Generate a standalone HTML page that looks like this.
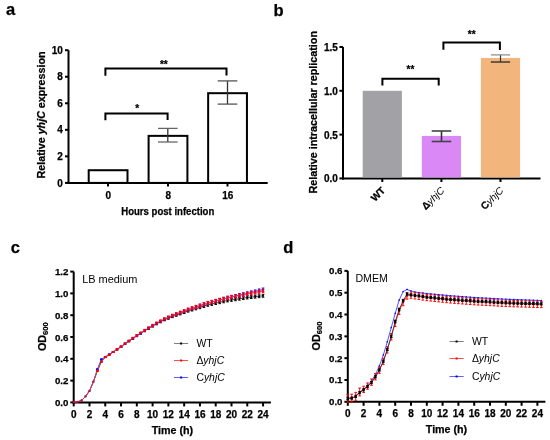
<!DOCTYPE html>
<html><head><meta charset="utf-8"><style>
html,body{margin:0;padding:0;background:#fff;}
svg{display:block;font-family:"Liberation Sans", sans-serif;will-change:transform;}
</style></head><body>
<svg width="550" height="440" viewBox="0 0 550 440" font-family='"Liberation Sans", sans-serif'>
<rect width="550" height="440" fill="#fff"/>
<text x="6.00" y="14.70" font-size="16.5" font-weight="bold" text-anchor="start"  stroke="#000" stroke-width="0.25">a</text>
<text x="273.50" y="15.60" font-size="16.5" font-weight="bold" text-anchor="start"  stroke="#000" stroke-width="0.25">b</text>
<text x="10.80" y="253.40" font-size="16.5" font-weight="bold" text-anchor="start"  stroke="#000" stroke-width="0.25">c</text>
<text x="283.20" y="252.50" font-size="16.5" font-weight="bold" text-anchor="start"  stroke="#000" stroke-width="0.25">d</text>
<line x1="68.50" y1="50.20" x2="68.50" y2="183.90" stroke="#000" stroke-width="2" />
<line x1="67.50" y1="182.90" x2="267.70" y2="182.90" stroke="#000" stroke-width="2" />
<line x1="65.00" y1="182.90" x2="68.50" y2="182.90" stroke="#000" stroke-width="2" />
<text x="62.80" y="186.50" font-size="10" font-weight="bold" text-anchor="end"  stroke="#000" stroke-width="0.25">0</text>
<line x1="65.00" y1="156.36" x2="68.50" y2="156.36" stroke="#000" stroke-width="2" />
<text x="62.80" y="159.96" font-size="10" font-weight="bold" text-anchor="end"  stroke="#000" stroke-width="0.25">2</text>
<line x1="65.00" y1="129.82" x2="68.50" y2="129.82" stroke="#000" stroke-width="2" />
<text x="62.80" y="133.42" font-size="10" font-weight="bold" text-anchor="end"  stroke="#000" stroke-width="0.25">4</text>
<line x1="65.00" y1="103.28" x2="68.50" y2="103.28" stroke="#000" stroke-width="2" />
<text x="62.80" y="106.88" font-size="10" font-weight="bold" text-anchor="end"  stroke="#000" stroke-width="0.25">6</text>
<line x1="65.00" y1="76.74" x2="68.50" y2="76.74" stroke="#000" stroke-width="2" />
<text x="62.80" y="80.34" font-size="10" font-weight="bold" text-anchor="end"  stroke="#000" stroke-width="0.25">8</text>
<line x1="65.00" y1="50.20" x2="68.50" y2="50.20" stroke="#000" stroke-width="2" />
<text x="62.80" y="53.80" font-size="10" font-weight="bold" text-anchor="end"  stroke="#000" stroke-width="0.25">10</text>
<rect x="88.70" y="170.23" width="38.80" height="12.67" fill="#fff" stroke="#000" stroke-width="2"/>
<rect x="148.60" y="135.86" width="38.80" height="47.04" fill="#fff" stroke="#000" stroke-width="2"/>
<rect x="208.15" y="93.19" width="38.80" height="89.71" fill="#fff" stroke="#000" stroke-width="2"/>
<line x1="108.00" y1="182.90" x2="108.00" y2="186.50" stroke="#000" stroke-width="2" />
<text x="108.20" y="198.90" font-size="10" font-weight="bold" text-anchor="middle"  stroke="#000" stroke-width="0.25">0</text>
<line x1="168.00" y1="182.90" x2="168.00" y2="186.50" stroke="#000" stroke-width="2" />
<text x="168.20" y="198.90" font-size="10" font-weight="bold" text-anchor="middle"  stroke="#000" stroke-width="0.25">8</text>
<line x1="227.50" y1="182.90" x2="227.50" y2="186.50" stroke="#000" stroke-width="2" />
<text x="227.70" y="198.90" font-size="10" font-weight="bold" text-anchor="middle"  stroke="#000" stroke-width="0.25">16</text>
<line x1="167.80" y1="128.40" x2="167.80" y2="142.00" stroke="#333" stroke-width="1.3" />
<line x1="158.00" y1="128.40" x2="177.60" y2="128.40" stroke="#666" stroke-width="1.3" />
<line x1="158.00" y1="142.00" x2="177.60" y2="142.00" stroke="#666" stroke-width="1.3" />
<line x1="227.50" y1="80.90" x2="227.50" y2="104.10" stroke="#333" stroke-width="1.3" />
<line x1="217.70" y1="80.90" x2="237.30" y2="80.90" stroke="#555" stroke-width="1.3" />
<line x1="217.70" y1="104.10" x2="237.30" y2="104.10" stroke="#555" stroke-width="1.3" />
<path d="M105.4 75.8 V68.4 H226.5 V75.4" fill="none" stroke="#000" stroke-width="2"/>
<path d="M105.4 120.2 V113.6 H167.6 V120.0" fill="none" stroke="#000" stroke-width="2"/>
<text x="163.80" y="67.50" font-size="10" font-weight="bold" text-anchor="middle"  stroke="#000" stroke-width="0.25">**</text>
<text x="137.10" y="112.20" font-size="10" font-weight="bold" text-anchor="middle"  stroke="#000" stroke-width="0.25">*</text>
<text transform="translate(44.9,115.0) rotate(-90)" font-size="10.5" font-weight="bold" stroke="#000" stroke-width="0.25" text-anchor="middle" textLength="127" lengthAdjust="spacingAndGlyphs">Relative <tspan font-style="italic">yhjC</tspan> expression</text>
<text x="167.75" y="215.10" font-size="10" font-weight="bold" text-anchor="middle"  textLength="93" lengthAdjust="spacingAndGlyphs" stroke="#000" stroke-width="0.25">Hours post infection</text>
<line x1="343.00" y1="47.00" x2="343.00" y2="179.40" stroke="#000" stroke-width="2" />
<line x1="342.00" y1="178.40" x2="540.50" y2="178.40" stroke="#000" stroke-width="2" />
<line x1="339.40" y1="178.40" x2="343.00" y2="178.40" stroke="#000" stroke-width="2" />
<text x="337.80" y="182.40" font-size="10" font-weight="bold" text-anchor="end"  stroke="#000" stroke-width="0.25">0.0</text>
<line x1="339.40" y1="134.60" x2="343.00" y2="134.60" stroke="#000" stroke-width="2" />
<text x="337.80" y="138.60" font-size="10" font-weight="bold" text-anchor="end"  stroke="#000" stroke-width="0.25">0.5</text>
<line x1="339.40" y1="90.80" x2="343.00" y2="90.80" stroke="#000" stroke-width="2" />
<text x="337.80" y="94.80" font-size="10" font-weight="bold" text-anchor="end"  stroke="#000" stroke-width="0.25">1.0</text>
<line x1="339.40" y1="47.00" x2="343.00" y2="47.00" stroke="#000" stroke-width="2" />
<text x="337.80" y="51.00" font-size="10" font-weight="bold" text-anchor="end"  stroke="#000" stroke-width="0.25">1.5</text>
<rect x="362.70" y="90.80" width="39.20" height="86.60" fill="#a2a1a6"/>
<line x1="382.30" y1="178.40" x2="382.30" y2="182.00" stroke="#000" stroke-width="2" />
<rect x="421.80" y="135.91" width="39.20" height="41.49" fill="#da88f5"/>
<line x1="441.40" y1="178.40" x2="441.40" y2="182.00" stroke="#000" stroke-width="2" />
<rect x="480.90" y="57.95" width="39.20" height="119.45" fill="#f2b67d"/>
<line x1="500.50" y1="178.40" x2="500.50" y2="182.00" stroke="#000" stroke-width="2" />
<line x1="441.50" y1="131.00" x2="441.50" y2="141.50" stroke="#333" stroke-width="1.6" />
<line x1="431.70" y1="131.00" x2="451.30" y2="131.00" stroke="#444" stroke-width="1.6" />
<line x1="431.70" y1="141.50" x2="451.30" y2="141.50" stroke="#444" stroke-width="1.6" />
<line x1="500.50" y1="54.90" x2="500.50" y2="62.00" stroke="#333" stroke-width="1.2" />
<line x1="490.90" y1="54.90" x2="510.10" y2="54.90" stroke="#888" stroke-width="1.2" />
<line x1="490.90" y1="62.00" x2="510.10" y2="62.00" stroke="#333" stroke-width="1.4" />
<path d="M382.4 85.6 V78.7 H438.7 V85.6" fill="none" stroke="#000" stroke-width="2"/>
<path d="M443.4 49.7 V42.5 H499.9 V50.0" fill="none" stroke="#000" stroke-width="2"/>
<text x="410.50" y="73.00" font-size="10" font-weight="bold" text-anchor="middle"  stroke="#000" stroke-width="0.25">**</text>
<text x="471.70" y="37.60" font-size="10" font-weight="bold" text-anchor="middle"  stroke="#000" stroke-width="0.25">**</text>
<text transform="translate(317.4,112.3) rotate(-90)" font-size="10.7" font-weight="bold" stroke="#000" stroke-width="0.25" text-anchor="middle" textLength="162.5" lengthAdjust="spacingAndGlyphs">Relative intracellular replication</text>
<text transform="translate(385.90,191.10) rotate(-45)" font-size="10" font-weight="bold" text-anchor="end" stroke="#000" stroke-width="0.25">WT</text>
<text transform="translate(445.00,191.10) rotate(-45)" font-size="10" font-weight="bold" text-anchor="end" stroke="#000" stroke-width="0.25">Δ<tspan font-style="italic" font-weight="normal" stroke-width="0">yhjC</tspan></text>
<text transform="translate(504.10,191.10) rotate(-45)" font-size="10" font-weight="bold" text-anchor="end" stroke="#000" stroke-width="0.25">C<tspan font-style="italic" font-weight="normal" stroke-width="0">yhjC</tspan></text>
<line x1="73.70" y1="271.60" x2="73.70" y2="403.40" stroke="#000" stroke-width="2" />
<line x1="72.70" y1="402.40" x2="270.90" y2="402.40" stroke="#000" stroke-width="2" />
<line x1="70.30" y1="402.40" x2="73.70" y2="402.40" stroke="#000" stroke-width="2" />
<text x="68.40" y="405.90" font-size="9.7" font-weight="bold" text-anchor="end"  stroke="#000" stroke-width="0.25">0.0</text>
<line x1="70.30" y1="380.60" x2="73.70" y2="380.60" stroke="#000" stroke-width="2" />
<text x="68.40" y="384.10" font-size="9.7" font-weight="bold" text-anchor="end"  stroke="#000" stroke-width="0.25">0.2</text>
<line x1="70.30" y1="358.80" x2="73.70" y2="358.80" stroke="#000" stroke-width="2" />
<text x="68.40" y="362.30" font-size="9.7" font-weight="bold" text-anchor="end"  stroke="#000" stroke-width="0.25">0.4</text>
<line x1="70.30" y1="337.00" x2="73.70" y2="337.00" stroke="#000" stroke-width="2" />
<text x="68.40" y="340.50" font-size="9.7" font-weight="bold" text-anchor="end"  stroke="#000" stroke-width="0.25">0.6</text>
<line x1="70.30" y1="315.20" x2="73.70" y2="315.20" stroke="#000" stroke-width="2" />
<text x="68.40" y="318.70" font-size="9.7" font-weight="bold" text-anchor="end"  stroke="#000" stroke-width="0.25">0.8</text>
<line x1="70.30" y1="293.40" x2="73.70" y2="293.40" stroke="#000" stroke-width="2" />
<text x="68.40" y="296.90" font-size="9.7" font-weight="bold" text-anchor="end"  stroke="#000" stroke-width="0.25">1.0</text>
<line x1="70.30" y1="271.60" x2="73.70" y2="271.60" stroke="#000" stroke-width="2" />
<text x="68.40" y="275.10" font-size="9.7" font-weight="bold" text-anchor="end"  stroke="#000" stroke-width="0.25">1.2</text>
<line x1="73.70" y1="402.40" x2="73.70" y2="406.40" stroke="#000" stroke-width="2" />
<text x="73.70" y="417.80" font-size="10" font-weight="bold" text-anchor="middle"  stroke="#000" stroke-width="0.25">0</text>
<line x1="89.48" y1="402.40" x2="89.48" y2="406.40" stroke="#000" stroke-width="2" />
<text x="89.48" y="417.80" font-size="10" font-weight="bold" text-anchor="middle"  stroke="#000" stroke-width="0.25">2</text>
<line x1="105.26" y1="402.40" x2="105.26" y2="406.40" stroke="#000" stroke-width="2" />
<text x="105.26" y="417.80" font-size="10" font-weight="bold" text-anchor="middle"  stroke="#000" stroke-width="0.25">4</text>
<line x1="121.04" y1="402.40" x2="121.04" y2="406.40" stroke="#000" stroke-width="2" />
<text x="121.04" y="417.80" font-size="10" font-weight="bold" text-anchor="middle"  stroke="#000" stroke-width="0.25">6</text>
<line x1="136.82" y1="402.40" x2="136.82" y2="406.40" stroke="#000" stroke-width="2" />
<text x="136.82" y="417.80" font-size="10" font-weight="bold" text-anchor="middle"  stroke="#000" stroke-width="0.25">8</text>
<line x1="152.60" y1="402.40" x2="152.60" y2="406.40" stroke="#000" stroke-width="2" />
<text x="152.60" y="417.80" font-size="10" font-weight="bold" text-anchor="middle"  stroke="#000" stroke-width="0.25">10</text>
<line x1="168.38" y1="402.40" x2="168.38" y2="406.40" stroke="#000" stroke-width="2" />
<text x="168.38" y="417.80" font-size="10" font-weight="bold" text-anchor="middle"  stroke="#000" stroke-width="0.25">12</text>
<line x1="184.16" y1="402.40" x2="184.16" y2="406.40" stroke="#000" stroke-width="2" />
<text x="184.16" y="417.80" font-size="10" font-weight="bold" text-anchor="middle"  stroke="#000" stroke-width="0.25">14</text>
<line x1="199.94" y1="402.40" x2="199.94" y2="406.40" stroke="#000" stroke-width="2" />
<text x="199.94" y="417.80" font-size="10" font-weight="bold" text-anchor="middle"  stroke="#000" stroke-width="0.25">16</text>
<line x1="215.72" y1="402.40" x2="215.72" y2="406.40" stroke="#000" stroke-width="2" />
<text x="215.72" y="417.80" font-size="10" font-weight="bold" text-anchor="middle"  stroke="#000" stroke-width="0.25">18</text>
<line x1="231.50" y1="402.40" x2="231.50" y2="406.40" stroke="#000" stroke-width="2" />
<text x="231.50" y="417.80" font-size="10" font-weight="bold" text-anchor="middle"  stroke="#000" stroke-width="0.25">20</text>
<line x1="247.28" y1="402.40" x2="247.28" y2="406.40" stroke="#000" stroke-width="2" />
<text x="247.28" y="417.80" font-size="10" font-weight="bold" text-anchor="middle"  stroke="#000" stroke-width="0.25">22</text>
<line x1="263.06" y1="402.40" x2="263.06" y2="406.40" stroke="#000" stroke-width="2" />
<text x="263.06" y="417.80" font-size="10" font-weight="bold" text-anchor="middle"  stroke="#000" stroke-width="0.25">24</text>
<text x="172.40" y="433.70" font-size="10.7" font-weight="bold" text-anchor="middle"  stroke="#000" stroke-width="0.25">Time (h)</text>
<text transform="translate(46.20,351.10) rotate(-90)" font-size="10.8" font-weight="bold" text-anchor="start" stroke="#000" stroke-width="0.25">OD<tspan font-size="7.6" dy="1.9">600</tspan></text>
<text x="82.20" y="282.50" font-size="10.6" font-weight="normal" text-anchor="start"  textLength="55.3" lengthAdjust="spacingAndGlyphs">LB medium</text>
<polyline points="73.70,402.07 77.64,401.75 81.59,400.44 85.53,396.40 89.48,390.95 93.42,381.69 97.37,370.79 101.31,361.52 105.26,357.16 109.20,354.77 113.15,352.04 117.09,349.32 121.04,346.81 124.98,343.87 128.93,341.14 132.88,338.42 136.82,335.86 140.76,333.29 144.71,330.79 148.66,328.28 152.60,325.99 156.55,323.70 160.49,321.74 164.44,319.78 168.38,318.14 172.32,316.51 176.27,315.09 180.22,313.67 184.16,312.26 188.11,310.84 192.05,309.64 196.00,308.44 199.94,307.24 203.88,306.04 207.83,304.84 211.77,303.97 215.72,303.10 219.67,302.23 223.61,301.36 227.56,300.48 231.50,299.90 235.44,299.31 239.39,298.72 243.33,298.13 247.28,297.54 251.23,297.11 255.17,296.67 259.12,296.23 263.06,295.80" fill="none" stroke="#333" stroke-width="0.9"/>
<rect x="72.90" y="401.27" width="1.6" height="1.6" fill="#000"/>
<rect x="76.84" y="400.95" width="1.6" height="1.6" fill="#000"/>
<rect x="80.79" y="399.64" width="1.6" height="1.6" fill="#000"/>
<rect x="84.73" y="395.60" width="1.6" height="1.6" fill="#000"/>
<rect x="88.68" y="390.15" width="1.6" height="1.6" fill="#000"/>
<rect x="92.62" y="380.89" width="1.6" height="1.6" fill="#000"/>
<line x1="97.37" y1="370.49" x2="97.37" y2="371.09" stroke="#000" stroke-width="0.9" />
<line x1="96.07" y1="370.49" x2="98.67" y2="370.49" stroke="#000" stroke-width="1.0" />
<line x1="96.07" y1="371.09" x2="98.67" y2="371.09" stroke="#000" stroke-width="1.0" />
<rect x="96.57" y="369.99" width="1.6" height="1.6" fill="#000"/>
<line x1="101.31" y1="361.18" x2="101.31" y2="361.87" stroke="#000" stroke-width="0.9" />
<line x1="100.02" y1="361.18" x2="102.61" y2="361.18" stroke="#000" stroke-width="1.0" />
<line x1="100.02" y1="361.87" x2="102.61" y2="361.87" stroke="#000" stroke-width="1.0" />
<rect x="100.52" y="360.72" width="1.6" height="1.6" fill="#000"/>
<line x1="105.26" y1="356.78" x2="105.26" y2="357.55" stroke="#000" stroke-width="0.9" />
<line x1="103.96" y1="356.78" x2="106.56" y2="356.78" stroke="#000" stroke-width="1.0" />
<line x1="103.96" y1="357.55" x2="106.56" y2="357.55" stroke="#000" stroke-width="1.0" />
<rect x="104.46" y="356.36" width="1.6" height="1.6" fill="#000"/>
<line x1="109.20" y1="354.33" x2="109.20" y2="355.20" stroke="#000" stroke-width="0.9" />
<line x1="107.91" y1="354.33" x2="110.50" y2="354.33" stroke="#000" stroke-width="1.0" />
<line x1="107.91" y1="355.20" x2="110.50" y2="355.20" stroke="#000" stroke-width="1.0" />
<rect x="108.41" y="353.97" width="1.6" height="1.6" fill="#000"/>
<line x1="113.15" y1="351.57" x2="113.15" y2="352.52" stroke="#000" stroke-width="0.9" />
<line x1="111.85" y1="351.57" x2="114.45" y2="351.57" stroke="#000" stroke-width="1.0" />
<line x1="111.85" y1="352.52" x2="114.45" y2="352.52" stroke="#000" stroke-width="1.0" />
<rect x="112.35" y="351.24" width="1.6" height="1.6" fill="#000"/>
<line x1="117.09" y1="348.80" x2="117.09" y2="349.83" stroke="#000" stroke-width="0.9" />
<line x1="115.80" y1="348.80" x2="118.39" y2="348.80" stroke="#000" stroke-width="1.0" />
<line x1="115.80" y1="349.83" x2="118.39" y2="349.83" stroke="#000" stroke-width="1.0" />
<rect x="116.30" y="348.52" width="1.6" height="1.6" fill="#000"/>
<line x1="121.04" y1="346.25" x2="121.04" y2="347.37" stroke="#000" stroke-width="0.9" />
<line x1="119.74" y1="346.25" x2="122.34" y2="346.25" stroke="#000" stroke-width="1.0" />
<line x1="119.74" y1="347.37" x2="122.34" y2="347.37" stroke="#000" stroke-width="1.0" />
<rect x="120.24" y="346.01" width="1.6" height="1.6" fill="#000"/>
<line x1="124.98" y1="343.26" x2="124.98" y2="344.47" stroke="#000" stroke-width="0.9" />
<line x1="123.69" y1="343.26" x2="126.28" y2="343.26" stroke="#000" stroke-width="1.0" />
<line x1="123.69" y1="344.47" x2="126.28" y2="344.47" stroke="#000" stroke-width="1.0" />
<rect x="124.19" y="343.07" width="1.6" height="1.6" fill="#000"/>
<line x1="128.93" y1="340.50" x2="128.93" y2="341.79" stroke="#000" stroke-width="0.9" />
<line x1="127.63" y1="340.50" x2="130.23" y2="340.50" stroke="#000" stroke-width="1.0" />
<line x1="127.63" y1="341.79" x2="130.23" y2="341.79" stroke="#000" stroke-width="1.0" />
<rect x="128.13" y="340.34" width="1.6" height="1.6" fill="#000"/>
<line x1="132.88" y1="337.73" x2="132.88" y2="339.11" stroke="#000" stroke-width="0.9" />
<line x1="131.57" y1="337.73" x2="134.18" y2="337.73" stroke="#000" stroke-width="1.0" />
<line x1="131.57" y1="339.11" x2="134.18" y2="339.11" stroke="#000" stroke-width="1.0" />
<rect x="132.07" y="337.62" width="1.6" height="1.6" fill="#000"/>
<line x1="136.82" y1="335.12" x2="136.82" y2="336.59" stroke="#000" stroke-width="0.9" />
<line x1="135.52" y1="335.12" x2="138.12" y2="335.12" stroke="#000" stroke-width="1.0" />
<line x1="135.52" y1="336.59" x2="138.12" y2="336.59" stroke="#000" stroke-width="1.0" />
<rect x="136.02" y="335.06" width="1.6" height="1.6" fill="#000"/>
<line x1="140.76" y1="332.52" x2="140.76" y2="334.07" stroke="#000" stroke-width="0.9" />
<line x1="139.46" y1="332.52" x2="142.06" y2="332.52" stroke="#000" stroke-width="1.0" />
<line x1="139.46" y1="334.07" x2="142.06" y2="334.07" stroke="#000" stroke-width="1.0" />
<rect x="139.96" y="332.49" width="1.6" height="1.6" fill="#000"/>
<line x1="144.71" y1="329.97" x2="144.71" y2="331.60" stroke="#000" stroke-width="0.9" />
<line x1="143.41" y1="329.97" x2="146.01" y2="329.97" stroke="#000" stroke-width="1.0" />
<line x1="143.41" y1="331.60" x2="146.01" y2="331.60" stroke="#000" stroke-width="1.0" />
<rect x="143.91" y="329.99" width="1.6" height="1.6" fill="#000"/>
<line x1="148.66" y1="327.42" x2="148.66" y2="329.14" stroke="#000" stroke-width="0.9" />
<line x1="147.35" y1="327.42" x2="149.96" y2="327.42" stroke="#000" stroke-width="1.0" />
<line x1="147.35" y1="329.14" x2="149.96" y2="329.14" stroke="#000" stroke-width="1.0" />
<rect x="147.85" y="327.48" width="1.6" height="1.6" fill="#000"/>
<line x1="152.60" y1="325.09" x2="152.60" y2="326.89" stroke="#000" stroke-width="0.9" />
<line x1="151.30" y1="325.09" x2="153.90" y2="325.09" stroke="#000" stroke-width="1.0" />
<line x1="151.30" y1="326.89" x2="153.90" y2="326.89" stroke="#000" stroke-width="1.0" />
<rect x="151.80" y="325.19" width="1.6" height="1.6" fill="#000"/>
<line x1="156.55" y1="322.76" x2="156.55" y2="324.65" stroke="#000" stroke-width="0.9" />
<line x1="155.25" y1="322.76" x2="157.85" y2="322.76" stroke="#000" stroke-width="1.0" />
<line x1="155.25" y1="324.65" x2="157.85" y2="324.65" stroke="#000" stroke-width="1.0" />
<rect x="155.75" y="322.90" width="1.6" height="1.6" fill="#000"/>
<line x1="160.49" y1="320.75" x2="160.49" y2="322.73" stroke="#000" stroke-width="0.9" />
<line x1="159.19" y1="320.75" x2="161.79" y2="320.75" stroke="#000" stroke-width="1.0" />
<line x1="159.19" y1="322.73" x2="161.79" y2="322.73" stroke="#000" stroke-width="1.0" />
<rect x="159.69" y="320.94" width="1.6" height="1.6" fill="#000"/>
<line x1="164.44" y1="318.75" x2="164.44" y2="320.81" stroke="#000" stroke-width="0.9" />
<line x1="163.13" y1="318.75" x2="165.74" y2="318.75" stroke="#000" stroke-width="1.0" />
<line x1="163.13" y1="320.81" x2="165.74" y2="320.81" stroke="#000" stroke-width="1.0" />
<rect x="163.63" y="318.98" width="1.6" height="1.6" fill="#000"/>
<line x1="168.38" y1="317.07" x2="168.38" y2="319.22" stroke="#000" stroke-width="0.9" />
<line x1="167.08" y1="317.07" x2="169.68" y2="317.07" stroke="#000" stroke-width="1.0" />
<line x1="167.08" y1="319.22" x2="169.68" y2="319.22" stroke="#000" stroke-width="1.0" />
<rect x="167.58" y="317.34" width="1.6" height="1.6" fill="#000"/>
<line x1="172.32" y1="315.39" x2="172.32" y2="317.63" stroke="#000" stroke-width="0.9" />
<line x1="171.02" y1="315.39" x2="173.62" y2="315.39" stroke="#000" stroke-width="1.0" />
<line x1="171.02" y1="317.63" x2="173.62" y2="317.63" stroke="#000" stroke-width="1.0" />
<rect x="171.52" y="315.71" width="1.6" height="1.6" fill="#000"/>
<line x1="176.27" y1="313.93" x2="176.27" y2="316.25" stroke="#000" stroke-width="0.9" />
<line x1="174.97" y1="313.93" x2="177.57" y2="313.93" stroke="#000" stroke-width="1.0" />
<line x1="174.97" y1="316.25" x2="177.57" y2="316.25" stroke="#000" stroke-width="1.0" />
<rect x="175.47" y="314.29" width="1.6" height="1.6" fill="#000"/>
<line x1="180.22" y1="312.47" x2="180.22" y2="314.88" stroke="#000" stroke-width="0.9" />
<line x1="178.91" y1="312.47" x2="181.52" y2="312.47" stroke="#000" stroke-width="1.0" />
<line x1="178.91" y1="314.88" x2="181.52" y2="314.88" stroke="#000" stroke-width="1.0" />
<rect x="179.41" y="312.87" width="1.6" height="1.6" fill="#000"/>
<line x1="184.16" y1="311.01" x2="184.16" y2="313.50" stroke="#000" stroke-width="0.9" />
<line x1="182.86" y1="311.01" x2="185.46" y2="311.01" stroke="#000" stroke-width="1.0" />
<line x1="182.86" y1="313.50" x2="185.46" y2="313.50" stroke="#000" stroke-width="1.0" />
<rect x="183.36" y="311.46" width="1.6" height="1.6" fill="#000"/>
<line x1="188.11" y1="309.55" x2="188.11" y2="312.13" stroke="#000" stroke-width="0.9" />
<line x1="186.81" y1="309.55" x2="189.41" y2="309.55" stroke="#000" stroke-width="1.0" />
<line x1="186.81" y1="312.13" x2="189.41" y2="312.13" stroke="#000" stroke-width="1.0" />
<rect x="187.31" y="310.04" width="1.6" height="1.6" fill="#000"/>
<line x1="192.05" y1="308.31" x2="192.05" y2="310.97" stroke="#000" stroke-width="0.9" />
<line x1="190.75" y1="308.31" x2="193.35" y2="308.31" stroke="#000" stroke-width="1.0" />
<line x1="190.75" y1="310.97" x2="193.35" y2="310.97" stroke="#000" stroke-width="1.0" />
<rect x="191.25" y="308.84" width="1.6" height="1.6" fill="#000"/>
<line x1="196.00" y1="307.07" x2="196.00" y2="309.82" stroke="#000" stroke-width="0.9" />
<line x1="194.69" y1="307.07" x2="197.30" y2="307.07" stroke="#000" stroke-width="1.0" />
<line x1="194.69" y1="309.82" x2="197.30" y2="309.82" stroke="#000" stroke-width="1.0" />
<rect x="195.19" y="307.64" width="1.6" height="1.6" fill="#000"/>
<line x1="199.94" y1="305.83" x2="199.94" y2="308.66" stroke="#000" stroke-width="0.9" />
<line x1="198.64" y1="305.83" x2="201.24" y2="305.83" stroke="#000" stroke-width="1.0" />
<line x1="198.64" y1="308.66" x2="201.24" y2="308.66" stroke="#000" stroke-width="1.0" />
<rect x="199.14" y="306.44" width="1.6" height="1.6" fill="#000"/>
<line x1="203.88" y1="304.63" x2="203.88" y2="307.46" stroke="#000" stroke-width="0.9" />
<line x1="202.58" y1="304.63" x2="205.19" y2="304.63" stroke="#000" stroke-width="1.0" />
<line x1="202.58" y1="307.46" x2="205.19" y2="307.46" stroke="#000" stroke-width="1.0" />
<rect x="203.08" y="305.24" width="1.6" height="1.6" fill="#000"/>
<line x1="207.83" y1="303.43" x2="207.83" y2="306.26" stroke="#000" stroke-width="0.9" />
<line x1="206.53" y1="303.43" x2="209.13" y2="303.43" stroke="#000" stroke-width="1.0" />
<line x1="206.53" y1="306.26" x2="209.13" y2="306.26" stroke="#000" stroke-width="1.0" />
<rect x="207.03" y="304.04" width="1.6" height="1.6" fill="#000"/>
<line x1="211.77" y1="302.56" x2="211.77" y2="305.39" stroke="#000" stroke-width="0.9" />
<line x1="210.47" y1="302.56" x2="213.07" y2="302.56" stroke="#000" stroke-width="1.0" />
<line x1="210.47" y1="305.39" x2="213.07" y2="305.39" stroke="#000" stroke-width="1.0" />
<rect x="210.97" y="303.17" width="1.6" height="1.6" fill="#000"/>
<line x1="215.72" y1="301.68" x2="215.72" y2="304.52" stroke="#000" stroke-width="0.9" />
<line x1="214.42" y1="301.68" x2="217.02" y2="301.68" stroke="#000" stroke-width="1.0" />
<line x1="214.42" y1="304.52" x2="217.02" y2="304.52" stroke="#000" stroke-width="1.0" />
<rect x="214.92" y="302.30" width="1.6" height="1.6" fill="#000"/>
<line x1="219.67" y1="300.81" x2="219.67" y2="303.65" stroke="#000" stroke-width="0.9" />
<line x1="218.37" y1="300.81" x2="220.97" y2="300.81" stroke="#000" stroke-width="1.0" />
<line x1="218.37" y1="303.65" x2="220.97" y2="303.65" stroke="#000" stroke-width="1.0" />
<rect x="218.87" y="301.43" width="1.6" height="1.6" fill="#000"/>
<line x1="223.61" y1="299.94" x2="223.61" y2="302.77" stroke="#000" stroke-width="0.9" />
<line x1="222.31" y1="299.94" x2="224.91" y2="299.94" stroke="#000" stroke-width="1.0" />
<line x1="222.31" y1="302.77" x2="224.91" y2="302.77" stroke="#000" stroke-width="1.0" />
<rect x="222.81" y="300.56" width="1.6" height="1.6" fill="#000"/>
<line x1="227.56" y1="299.07" x2="227.56" y2="301.90" stroke="#000" stroke-width="0.9" />
<line x1="226.25" y1="299.07" x2="228.86" y2="299.07" stroke="#000" stroke-width="1.0" />
<line x1="226.25" y1="301.90" x2="228.86" y2="301.90" stroke="#000" stroke-width="1.0" />
<rect x="226.75" y="299.68" width="1.6" height="1.6" fill="#000"/>
<line x1="231.50" y1="298.48" x2="231.50" y2="301.31" stroke="#000" stroke-width="0.9" />
<line x1="230.20" y1="298.48" x2="232.80" y2="298.48" stroke="#000" stroke-width="1.0" />
<line x1="230.20" y1="301.31" x2="232.80" y2="301.31" stroke="#000" stroke-width="1.0" />
<rect x="230.70" y="299.10" width="1.6" height="1.6" fill="#000"/>
<line x1="235.44" y1="297.89" x2="235.44" y2="300.72" stroke="#000" stroke-width="0.9" />
<line x1="234.14" y1="297.89" x2="236.75" y2="297.89" stroke="#000" stroke-width="1.0" />
<line x1="234.14" y1="300.72" x2="236.75" y2="300.72" stroke="#000" stroke-width="1.0" />
<rect x="234.64" y="298.51" width="1.6" height="1.6" fill="#000"/>
<line x1="239.39" y1="297.30" x2="239.39" y2="300.14" stroke="#000" stroke-width="0.9" />
<line x1="238.09" y1="297.30" x2="240.69" y2="297.30" stroke="#000" stroke-width="1.0" />
<line x1="238.09" y1="300.14" x2="240.69" y2="300.14" stroke="#000" stroke-width="1.0" />
<rect x="238.59" y="297.92" width="1.6" height="1.6" fill="#000"/>
<line x1="243.33" y1="296.71" x2="243.33" y2="299.55" stroke="#000" stroke-width="0.9" />
<line x1="242.03" y1="296.71" x2="244.63" y2="296.71" stroke="#000" stroke-width="1.0" />
<line x1="242.03" y1="299.55" x2="244.63" y2="299.55" stroke="#000" stroke-width="1.0" />
<rect x="242.53" y="297.33" width="1.6" height="1.6" fill="#000"/>
<line x1="247.28" y1="296.12" x2="247.28" y2="298.96" stroke="#000" stroke-width="0.9" />
<line x1="245.98" y1="296.12" x2="248.58" y2="296.12" stroke="#000" stroke-width="1.0" />
<line x1="245.98" y1="298.96" x2="248.58" y2="298.96" stroke="#000" stroke-width="1.0" />
<rect x="246.48" y="296.74" width="1.6" height="1.6" fill="#000"/>
<line x1="251.23" y1="295.69" x2="251.23" y2="298.52" stroke="#000" stroke-width="0.9" />
<line x1="249.93" y1="295.69" x2="252.53" y2="295.69" stroke="#000" stroke-width="1.0" />
<line x1="249.93" y1="298.52" x2="252.53" y2="298.52" stroke="#000" stroke-width="1.0" />
<rect x="250.43" y="296.31" width="1.6" height="1.6" fill="#000"/>
<line x1="255.17" y1="295.25" x2="255.17" y2="298.09" stroke="#000" stroke-width="0.9" />
<line x1="253.87" y1="295.25" x2="256.47" y2="295.25" stroke="#000" stroke-width="1.0" />
<line x1="253.87" y1="298.09" x2="256.47" y2="298.09" stroke="#000" stroke-width="1.0" />
<rect x="254.37" y="295.87" width="1.6" height="1.6" fill="#000"/>
<line x1="259.12" y1="294.82" x2="259.12" y2="297.65" stroke="#000" stroke-width="0.9" />
<line x1="257.81" y1="294.82" x2="260.42" y2="294.82" stroke="#000" stroke-width="1.0" />
<line x1="257.81" y1="297.65" x2="260.42" y2="297.65" stroke="#000" stroke-width="1.0" />
<rect x="258.31" y="295.43" width="1.6" height="1.6" fill="#000"/>
<line x1="263.06" y1="294.38" x2="263.06" y2="297.21" stroke="#000" stroke-width="0.9" />
<line x1="261.76" y1="294.38" x2="264.36" y2="294.38" stroke="#000" stroke-width="1.0" />
<line x1="261.76" y1="297.21" x2="264.36" y2="297.21" stroke="#000" stroke-width="1.0" />
<rect x="262.26" y="295.00" width="1.6" height="1.6" fill="#000"/>
<polyline points="73.70,402.07 77.64,401.75 81.59,400.44 85.53,396.40 89.48,390.95 93.42,381.69 97.37,369.15 101.31,359.34 105.26,356.84 109.20,354.44 113.15,351.93 117.09,349.32 121.04,346.81 124.98,343.87 128.93,341.14 132.88,338.42 136.82,335.86 140.76,333.29 144.71,330.79 148.66,328.28 152.60,325.99 156.55,323.70 160.49,321.52 164.44,319.34 168.38,317.54 172.32,315.75 176.27,314.25 180.22,312.75 184.16,311.25 188.11,309.75 192.05,308.44 196.00,307.13 199.94,305.83 203.88,304.52 207.83,303.21 211.77,302.12 215.72,301.03 219.67,299.94 223.61,298.85 227.56,297.76 231.50,296.89 235.44,296.02 239.39,295.14 243.33,294.27 247.28,293.40 251.23,292.45 255.17,291.49 259.12,290.54 263.06,289.58" fill="none" stroke="#4040ff" stroke-width="0.9"/>
<rect x="72.90" y="401.27" width="1.6" height="1.6" fill="#0000ff"/>
<rect x="76.84" y="400.95" width="1.6" height="1.6" fill="#0000ff"/>
<rect x="80.79" y="399.64" width="1.6" height="1.6" fill="#0000ff"/>
<rect x="84.73" y="395.60" width="1.6" height="1.6" fill="#0000ff"/>
<rect x="88.68" y="390.15" width="1.6" height="1.6" fill="#0000ff"/>
<rect x="92.62" y="380.89" width="1.6" height="1.6" fill="#0000ff"/>
<line x1="97.37" y1="368.84" x2="97.37" y2="369.47" stroke="#0000ff" stroke-width="0.9" />
<line x1="96.07" y1="368.84" x2="98.67" y2="368.84" stroke="#0000ff" stroke-width="1.0" />
<line x1="96.07" y1="369.47" x2="98.67" y2="369.47" stroke="#0000ff" stroke-width="1.0" />
<rect x="96.57" y="368.35" width="1.6" height="1.6" fill="#0000ff"/>
<line x1="101.31" y1="358.99" x2="101.31" y2="359.70" stroke="#0000ff" stroke-width="0.9" />
<line x1="100.02" y1="358.99" x2="102.61" y2="358.99" stroke="#0000ff" stroke-width="1.0" />
<line x1="100.02" y1="359.70" x2="102.61" y2="359.70" stroke="#0000ff" stroke-width="1.0" />
<rect x="100.52" y="358.54" width="1.6" height="1.6" fill="#0000ff"/>
<line x1="105.26" y1="356.43" x2="105.26" y2="357.24" stroke="#0000ff" stroke-width="0.9" />
<line x1="103.96" y1="356.43" x2="106.56" y2="356.43" stroke="#0000ff" stroke-width="1.0" />
<line x1="103.96" y1="357.24" x2="106.56" y2="357.24" stroke="#0000ff" stroke-width="1.0" />
<rect x="104.46" y="356.04" width="1.6" height="1.6" fill="#0000ff"/>
<line x1="109.20" y1="353.99" x2="109.20" y2="354.89" stroke="#0000ff" stroke-width="0.9" />
<line x1="107.91" y1="353.99" x2="110.50" y2="353.99" stroke="#0000ff" stroke-width="1.0" />
<line x1="107.91" y1="354.89" x2="110.50" y2="354.89" stroke="#0000ff" stroke-width="1.0" />
<rect x="108.41" y="353.64" width="1.6" height="1.6" fill="#0000ff"/>
<line x1="113.15" y1="351.43" x2="113.15" y2="352.43" stroke="#0000ff" stroke-width="0.9" />
<line x1="111.85" y1="351.43" x2="114.45" y2="351.43" stroke="#0000ff" stroke-width="1.0" />
<line x1="111.85" y1="352.43" x2="114.45" y2="352.43" stroke="#0000ff" stroke-width="1.0" />
<rect x="112.35" y="351.13" width="1.6" height="1.6" fill="#0000ff"/>
<line x1="117.09" y1="348.77" x2="117.09" y2="349.86" stroke="#0000ff" stroke-width="0.9" />
<line x1="115.80" y1="348.77" x2="118.39" y2="348.77" stroke="#0000ff" stroke-width="1.0" />
<line x1="115.80" y1="349.86" x2="118.39" y2="349.86" stroke="#0000ff" stroke-width="1.0" />
<rect x="116.30" y="348.52" width="1.6" height="1.6" fill="#0000ff"/>
<line x1="121.04" y1="346.22" x2="121.04" y2="347.40" stroke="#0000ff" stroke-width="0.9" />
<line x1="119.74" y1="346.22" x2="122.34" y2="346.22" stroke="#0000ff" stroke-width="1.0" />
<line x1="119.74" y1="347.40" x2="122.34" y2="347.40" stroke="#0000ff" stroke-width="1.0" />
<rect x="120.24" y="346.01" width="1.6" height="1.6" fill="#0000ff"/>
<line x1="124.98" y1="343.23" x2="124.98" y2="344.51" stroke="#0000ff" stroke-width="0.9" />
<line x1="123.69" y1="343.23" x2="126.28" y2="343.23" stroke="#0000ff" stroke-width="1.0" />
<line x1="123.69" y1="344.51" x2="126.28" y2="344.51" stroke="#0000ff" stroke-width="1.0" />
<rect x="124.19" y="343.07" width="1.6" height="1.6" fill="#0000ff"/>
<line x1="128.93" y1="340.46" x2="128.93" y2="341.83" stroke="#0000ff" stroke-width="0.9" />
<line x1="127.63" y1="340.46" x2="130.23" y2="340.46" stroke="#0000ff" stroke-width="1.0" />
<line x1="127.63" y1="341.83" x2="130.23" y2="341.83" stroke="#0000ff" stroke-width="1.0" />
<rect x="128.13" y="340.34" width="1.6" height="1.6" fill="#0000ff"/>
<line x1="132.88" y1="337.69" x2="132.88" y2="339.15" stroke="#0000ff" stroke-width="0.9" />
<line x1="131.57" y1="337.69" x2="134.18" y2="337.69" stroke="#0000ff" stroke-width="1.0" />
<line x1="131.57" y1="339.15" x2="134.18" y2="339.15" stroke="#0000ff" stroke-width="1.0" />
<rect x="132.07" y="337.62" width="1.6" height="1.6" fill="#0000ff"/>
<line x1="136.82" y1="335.08" x2="136.82" y2="336.63" stroke="#0000ff" stroke-width="0.9" />
<line x1="135.52" y1="335.08" x2="138.12" y2="335.08" stroke="#0000ff" stroke-width="1.0" />
<line x1="135.52" y1="336.63" x2="138.12" y2="336.63" stroke="#0000ff" stroke-width="1.0" />
<rect x="136.02" y="335.06" width="1.6" height="1.6" fill="#0000ff"/>
<line x1="140.76" y1="332.47" x2="140.76" y2="334.12" stroke="#0000ff" stroke-width="0.9" />
<line x1="139.46" y1="332.47" x2="142.06" y2="332.47" stroke="#0000ff" stroke-width="1.0" />
<line x1="139.46" y1="334.12" x2="142.06" y2="334.12" stroke="#0000ff" stroke-width="1.0" />
<rect x="139.96" y="332.49" width="1.6" height="1.6" fill="#0000ff"/>
<line x1="144.71" y1="329.91" x2="144.71" y2="331.66" stroke="#0000ff" stroke-width="0.9" />
<line x1="143.41" y1="329.91" x2="146.01" y2="329.91" stroke="#0000ff" stroke-width="1.0" />
<line x1="143.41" y1="331.66" x2="146.01" y2="331.66" stroke="#0000ff" stroke-width="1.0" />
<rect x="143.91" y="329.99" width="1.6" height="1.6" fill="#0000ff"/>
<line x1="148.66" y1="327.36" x2="148.66" y2="329.20" stroke="#0000ff" stroke-width="0.9" />
<line x1="147.35" y1="327.36" x2="149.96" y2="327.36" stroke="#0000ff" stroke-width="1.0" />
<line x1="147.35" y1="329.20" x2="149.96" y2="329.20" stroke="#0000ff" stroke-width="1.0" />
<rect x="147.85" y="327.48" width="1.6" height="1.6" fill="#0000ff"/>
<line x1="152.60" y1="325.03" x2="152.60" y2="326.96" stroke="#0000ff" stroke-width="0.9" />
<line x1="151.30" y1="325.03" x2="153.90" y2="325.03" stroke="#0000ff" stroke-width="1.0" />
<line x1="151.30" y1="326.96" x2="153.90" y2="326.96" stroke="#0000ff" stroke-width="1.0" />
<rect x="151.80" y="325.19" width="1.6" height="1.6" fill="#0000ff"/>
<line x1="156.55" y1="322.69" x2="156.55" y2="324.71" stroke="#0000ff" stroke-width="0.9" />
<line x1="155.25" y1="322.69" x2="157.85" y2="322.69" stroke="#0000ff" stroke-width="1.0" />
<line x1="155.25" y1="324.71" x2="157.85" y2="324.71" stroke="#0000ff" stroke-width="1.0" />
<rect x="155.75" y="322.90" width="1.6" height="1.6" fill="#0000ff"/>
<line x1="160.49" y1="320.46" x2="160.49" y2="322.58" stroke="#0000ff" stroke-width="0.9" />
<line x1="159.19" y1="320.46" x2="161.79" y2="320.46" stroke="#0000ff" stroke-width="1.0" />
<line x1="159.19" y1="322.58" x2="161.79" y2="322.58" stroke="#0000ff" stroke-width="1.0" />
<rect x="159.69" y="320.72" width="1.6" height="1.6" fill="#0000ff"/>
<line x1="164.44" y1="318.24" x2="164.44" y2="320.45" stroke="#0000ff" stroke-width="0.9" />
<line x1="163.13" y1="318.24" x2="165.74" y2="318.24" stroke="#0000ff" stroke-width="1.0" />
<line x1="163.13" y1="320.45" x2="165.74" y2="320.45" stroke="#0000ff" stroke-width="1.0" />
<rect x="163.63" y="318.54" width="1.6" height="1.6" fill="#0000ff"/>
<line x1="168.38" y1="316.39" x2="168.38" y2="318.70" stroke="#0000ff" stroke-width="0.9" />
<line x1="167.08" y1="316.39" x2="169.68" y2="316.39" stroke="#0000ff" stroke-width="1.0" />
<line x1="167.08" y1="318.70" x2="169.68" y2="318.70" stroke="#0000ff" stroke-width="1.0" />
<rect x="167.58" y="316.74" width="1.6" height="1.6" fill="#0000ff"/>
<line x1="172.32" y1="314.55" x2="172.32" y2="316.94" stroke="#0000ff" stroke-width="0.9" />
<line x1="171.02" y1="314.55" x2="173.62" y2="314.55" stroke="#0000ff" stroke-width="1.0" />
<line x1="171.02" y1="316.94" x2="173.62" y2="316.94" stroke="#0000ff" stroke-width="1.0" />
<rect x="171.52" y="314.94" width="1.6" height="1.6" fill="#0000ff"/>
<line x1="176.27" y1="313.00" x2="176.27" y2="315.49" stroke="#0000ff" stroke-width="0.9" />
<line x1="174.97" y1="313.00" x2="177.57" y2="313.00" stroke="#0000ff" stroke-width="1.0" />
<line x1="174.97" y1="315.49" x2="177.57" y2="315.49" stroke="#0000ff" stroke-width="1.0" />
<rect x="175.47" y="313.45" width="1.6" height="1.6" fill="#0000ff"/>
<line x1="180.22" y1="311.46" x2="180.22" y2="314.04" stroke="#0000ff" stroke-width="0.9" />
<line x1="178.91" y1="311.46" x2="181.52" y2="311.46" stroke="#0000ff" stroke-width="1.0" />
<line x1="178.91" y1="314.04" x2="181.52" y2="314.04" stroke="#0000ff" stroke-width="1.0" />
<rect x="179.41" y="311.95" width="1.6" height="1.6" fill="#0000ff"/>
<line x1="184.16" y1="309.91" x2="184.16" y2="312.59" stroke="#0000ff" stroke-width="0.9" />
<line x1="182.86" y1="309.91" x2="185.46" y2="309.91" stroke="#0000ff" stroke-width="1.0" />
<line x1="182.86" y1="312.59" x2="185.46" y2="312.59" stroke="#0000ff" stroke-width="1.0" />
<rect x="183.36" y="310.45" width="1.6" height="1.6" fill="#0000ff"/>
<line x1="188.11" y1="308.36" x2="188.11" y2="311.14" stroke="#0000ff" stroke-width="0.9" />
<line x1="186.81" y1="308.36" x2="189.41" y2="308.36" stroke="#0000ff" stroke-width="1.0" />
<line x1="186.81" y1="311.14" x2="189.41" y2="311.14" stroke="#0000ff" stroke-width="1.0" />
<rect x="187.31" y="308.95" width="1.6" height="1.6" fill="#0000ff"/>
<line x1="192.05" y1="307.01" x2="192.05" y2="309.87" stroke="#0000ff" stroke-width="0.9" />
<line x1="190.75" y1="307.01" x2="193.35" y2="307.01" stroke="#0000ff" stroke-width="1.0" />
<line x1="190.75" y1="309.87" x2="193.35" y2="309.87" stroke="#0000ff" stroke-width="1.0" />
<rect x="191.25" y="307.64" width="1.6" height="1.6" fill="#0000ff"/>
<line x1="196.00" y1="305.65" x2="196.00" y2="308.61" stroke="#0000ff" stroke-width="0.9" />
<line x1="194.69" y1="305.65" x2="197.30" y2="305.65" stroke="#0000ff" stroke-width="1.0" />
<line x1="194.69" y1="308.61" x2="197.30" y2="308.61" stroke="#0000ff" stroke-width="1.0" />
<rect x="195.19" y="306.33" width="1.6" height="1.6" fill="#0000ff"/>
<line x1="199.94" y1="304.30" x2="199.94" y2="307.35" stroke="#0000ff" stroke-width="0.9" />
<line x1="198.64" y1="304.30" x2="201.24" y2="304.30" stroke="#0000ff" stroke-width="1.0" />
<line x1="198.64" y1="307.35" x2="201.24" y2="307.35" stroke="#0000ff" stroke-width="1.0" />
<rect x="199.14" y="305.03" width="1.6" height="1.6" fill="#0000ff"/>
<line x1="203.88" y1="302.99" x2="203.88" y2="306.04" stroke="#0000ff" stroke-width="0.9" />
<line x1="202.58" y1="302.99" x2="205.19" y2="302.99" stroke="#0000ff" stroke-width="1.0" />
<line x1="202.58" y1="306.04" x2="205.19" y2="306.04" stroke="#0000ff" stroke-width="1.0" />
<rect x="203.08" y="303.72" width="1.6" height="1.6" fill="#0000ff"/>
<line x1="207.83" y1="301.68" x2="207.83" y2="304.74" stroke="#0000ff" stroke-width="0.9" />
<line x1="206.53" y1="301.68" x2="209.13" y2="301.68" stroke="#0000ff" stroke-width="1.0" />
<line x1="206.53" y1="304.74" x2="209.13" y2="304.74" stroke="#0000ff" stroke-width="1.0" />
<rect x="207.03" y="302.41" width="1.6" height="1.6" fill="#0000ff"/>
<line x1="211.77" y1="300.59" x2="211.77" y2="303.65" stroke="#0000ff" stroke-width="0.9" />
<line x1="210.47" y1="300.59" x2="213.07" y2="300.59" stroke="#0000ff" stroke-width="1.0" />
<line x1="210.47" y1="303.65" x2="213.07" y2="303.65" stroke="#0000ff" stroke-width="1.0" />
<rect x="210.97" y="301.32" width="1.6" height="1.6" fill="#0000ff"/>
<line x1="215.72" y1="299.50" x2="215.72" y2="302.56" stroke="#0000ff" stroke-width="0.9" />
<line x1="214.42" y1="299.50" x2="217.02" y2="299.50" stroke="#0000ff" stroke-width="1.0" />
<line x1="214.42" y1="302.56" x2="217.02" y2="302.56" stroke="#0000ff" stroke-width="1.0" />
<rect x="214.92" y="300.23" width="1.6" height="1.6" fill="#0000ff"/>
<line x1="219.67" y1="298.41" x2="219.67" y2="301.47" stroke="#0000ff" stroke-width="0.9" />
<line x1="218.37" y1="298.41" x2="220.97" y2="298.41" stroke="#0000ff" stroke-width="1.0" />
<line x1="218.37" y1="301.47" x2="220.97" y2="301.47" stroke="#0000ff" stroke-width="1.0" />
<rect x="218.87" y="299.14" width="1.6" height="1.6" fill="#0000ff"/>
<line x1="223.61" y1="297.32" x2="223.61" y2="300.38" stroke="#0000ff" stroke-width="0.9" />
<line x1="222.31" y1="297.32" x2="224.91" y2="297.32" stroke="#0000ff" stroke-width="1.0" />
<line x1="222.31" y1="300.38" x2="224.91" y2="300.38" stroke="#0000ff" stroke-width="1.0" />
<rect x="222.81" y="298.05" width="1.6" height="1.6" fill="#0000ff"/>
<line x1="227.56" y1="296.23" x2="227.56" y2="299.29" stroke="#0000ff" stroke-width="0.9" />
<line x1="226.25" y1="296.23" x2="228.86" y2="296.23" stroke="#0000ff" stroke-width="1.0" />
<line x1="226.25" y1="299.29" x2="228.86" y2="299.29" stroke="#0000ff" stroke-width="1.0" />
<rect x="226.75" y="296.96" width="1.6" height="1.6" fill="#0000ff"/>
<line x1="231.50" y1="295.36" x2="231.50" y2="298.41" stroke="#0000ff" stroke-width="0.9" />
<line x1="230.20" y1="295.36" x2="232.80" y2="295.36" stroke="#0000ff" stroke-width="1.0" />
<line x1="230.20" y1="298.41" x2="232.80" y2="298.41" stroke="#0000ff" stroke-width="1.0" />
<rect x="230.70" y="296.09" width="1.6" height="1.6" fill="#0000ff"/>
<line x1="235.44" y1="294.49" x2="235.44" y2="297.54" stroke="#0000ff" stroke-width="0.9" />
<line x1="234.14" y1="294.49" x2="236.75" y2="294.49" stroke="#0000ff" stroke-width="1.0" />
<line x1="234.14" y1="297.54" x2="236.75" y2="297.54" stroke="#0000ff" stroke-width="1.0" />
<rect x="234.64" y="295.22" width="1.6" height="1.6" fill="#0000ff"/>
<line x1="239.39" y1="293.62" x2="239.39" y2="296.67" stroke="#0000ff" stroke-width="0.9" />
<line x1="238.09" y1="293.62" x2="240.69" y2="293.62" stroke="#0000ff" stroke-width="1.0" />
<line x1="238.09" y1="296.67" x2="240.69" y2="296.67" stroke="#0000ff" stroke-width="1.0" />
<rect x="238.59" y="294.34" width="1.6" height="1.6" fill="#0000ff"/>
<line x1="243.33" y1="292.75" x2="243.33" y2="295.80" stroke="#0000ff" stroke-width="0.9" />
<line x1="242.03" y1="292.75" x2="244.63" y2="292.75" stroke="#0000ff" stroke-width="1.0" />
<line x1="242.03" y1="295.80" x2="244.63" y2="295.80" stroke="#0000ff" stroke-width="1.0" />
<rect x="242.53" y="293.47" width="1.6" height="1.6" fill="#0000ff"/>
<line x1="247.28" y1="291.87" x2="247.28" y2="294.93" stroke="#0000ff" stroke-width="0.9" />
<line x1="245.98" y1="291.87" x2="248.58" y2="291.87" stroke="#0000ff" stroke-width="1.0" />
<line x1="245.98" y1="294.93" x2="248.58" y2="294.93" stroke="#0000ff" stroke-width="1.0" />
<rect x="246.48" y="292.60" width="1.6" height="1.6" fill="#0000ff"/>
<line x1="251.23" y1="290.92" x2="251.23" y2="293.97" stroke="#0000ff" stroke-width="0.9" />
<line x1="249.93" y1="290.92" x2="252.53" y2="290.92" stroke="#0000ff" stroke-width="1.0" />
<line x1="249.93" y1="293.97" x2="252.53" y2="293.97" stroke="#0000ff" stroke-width="1.0" />
<rect x="250.43" y="291.65" width="1.6" height="1.6" fill="#0000ff"/>
<line x1="255.17" y1="289.97" x2="255.17" y2="293.02" stroke="#0000ff" stroke-width="0.9" />
<line x1="253.87" y1="289.97" x2="256.47" y2="289.97" stroke="#0000ff" stroke-width="1.0" />
<line x1="253.87" y1="293.02" x2="256.47" y2="293.02" stroke="#0000ff" stroke-width="1.0" />
<rect x="254.37" y="290.69" width="1.6" height="1.6" fill="#0000ff"/>
<line x1="259.12" y1="289.01" x2="259.12" y2="292.06" stroke="#0000ff" stroke-width="0.9" />
<line x1="257.81" y1="289.01" x2="260.42" y2="289.01" stroke="#0000ff" stroke-width="1.0" />
<line x1="257.81" y1="292.06" x2="260.42" y2="292.06" stroke="#0000ff" stroke-width="1.0" />
<rect x="258.31" y="289.74" width="1.6" height="1.6" fill="#0000ff"/>
<line x1="263.06" y1="288.06" x2="263.06" y2="291.11" stroke="#0000ff" stroke-width="0.9" />
<line x1="261.76" y1="288.06" x2="264.36" y2="288.06" stroke="#0000ff" stroke-width="1.0" />
<line x1="261.76" y1="291.11" x2="264.36" y2="291.11" stroke="#0000ff" stroke-width="1.0" />
<rect x="262.26" y="288.78" width="1.6" height="1.6" fill="#0000ff"/>
<polyline points="73.70,402.07 77.64,401.75 81.59,400.44 85.53,396.40 89.48,390.95 93.42,381.69 97.37,370.79 101.31,362.07 105.26,357.16 109.20,354.77 113.15,352.04 117.09,349.32 121.04,346.59 124.98,343.54 128.93,340.81 132.88,338.09 136.82,335.47 140.76,332.86 144.71,330.35 148.66,327.84 152.60,325.45 156.55,323.05 160.49,320.98 164.44,318.91 168.38,317.22 172.32,315.53 176.27,314.03 180.22,312.53 184.16,311.03 188.11,309.53 192.05,308.22 196.00,306.92 199.94,305.61 203.88,304.30 207.83,302.99 211.77,301.99 215.72,300.99 219.67,299.98 223.61,298.98 227.56,297.98 231.50,297.17 235.44,296.36 239.39,295.56 243.33,294.75 247.28,293.94 251.23,293.21 255.17,292.47 259.12,291.74 263.06,291.00" fill="none" stroke="#ff3030" stroke-width="0.9"/>
<rect x="72.90" y="401.27" width="1.6" height="1.6" fill="#ff0000"/>
<rect x="76.84" y="400.95" width="1.6" height="1.6" fill="#ff0000"/>
<rect x="80.79" y="399.64" width="1.6" height="1.6" fill="#ff0000"/>
<rect x="84.73" y="395.60" width="1.6" height="1.6" fill="#ff0000"/>
<rect x="88.68" y="390.15" width="1.6" height="1.6" fill="#ff0000"/>
<rect x="92.62" y="380.89" width="1.6" height="1.6" fill="#ff0000"/>
<line x1="97.37" y1="370.47" x2="97.37" y2="371.11" stroke="#ff0000" stroke-width="0.9" />
<line x1="96.07" y1="370.47" x2="98.67" y2="370.47" stroke="#ff0000" stroke-width="1.0" />
<line x1="96.07" y1="371.11" x2="98.67" y2="371.11" stroke="#ff0000" stroke-width="1.0" />
<rect x="96.57" y="369.99" width="1.6" height="1.6" fill="#ff0000"/>
<line x1="101.31" y1="361.70" x2="101.31" y2="362.44" stroke="#ff0000" stroke-width="0.9" />
<line x1="100.02" y1="361.70" x2="102.61" y2="361.70" stroke="#ff0000" stroke-width="1.0" />
<line x1="100.02" y1="362.44" x2="102.61" y2="362.44" stroke="#ff0000" stroke-width="1.0" />
<rect x="100.52" y="361.27" width="1.6" height="1.6" fill="#ff0000"/>
<line x1="105.26" y1="356.74" x2="105.26" y2="357.59" stroke="#ff0000" stroke-width="0.9" />
<line x1="103.96" y1="356.74" x2="106.56" y2="356.74" stroke="#ff0000" stroke-width="1.0" />
<line x1="103.96" y1="357.59" x2="106.56" y2="357.59" stroke="#ff0000" stroke-width="1.0" />
<rect x="104.46" y="356.36" width="1.6" height="1.6" fill="#ff0000"/>
<line x1="109.20" y1="354.30" x2="109.20" y2="355.24" stroke="#ff0000" stroke-width="0.9" />
<line x1="107.91" y1="354.30" x2="110.50" y2="354.30" stroke="#ff0000" stroke-width="1.0" />
<line x1="107.91" y1="355.24" x2="110.50" y2="355.24" stroke="#ff0000" stroke-width="1.0" />
<rect x="108.41" y="353.97" width="1.6" height="1.6" fill="#ff0000"/>
<line x1="113.15" y1="351.52" x2="113.15" y2="352.56" stroke="#ff0000" stroke-width="0.9" />
<line x1="111.85" y1="351.52" x2="114.45" y2="351.52" stroke="#ff0000" stroke-width="1.0" />
<line x1="111.85" y1="352.56" x2="114.45" y2="352.56" stroke="#ff0000" stroke-width="1.0" />
<rect x="112.35" y="351.24" width="1.6" height="1.6" fill="#ff0000"/>
<line x1="117.09" y1="348.74" x2="117.09" y2="349.89" stroke="#ff0000" stroke-width="0.9" />
<line x1="115.80" y1="348.74" x2="118.39" y2="348.74" stroke="#ff0000" stroke-width="1.0" />
<line x1="115.80" y1="349.89" x2="118.39" y2="349.89" stroke="#ff0000" stroke-width="1.0" />
<rect x="116.30" y="348.52" width="1.6" height="1.6" fill="#ff0000"/>
<line x1="121.04" y1="345.97" x2="121.04" y2="347.21" stroke="#ff0000" stroke-width="0.9" />
<line x1="119.74" y1="345.97" x2="122.34" y2="345.97" stroke="#ff0000" stroke-width="1.0" />
<line x1="119.74" y1="347.21" x2="122.34" y2="347.21" stroke="#ff0000" stroke-width="1.0" />
<rect x="120.24" y="345.79" width="1.6" height="1.6" fill="#ff0000"/>
<line x1="124.98" y1="342.87" x2="124.98" y2="344.21" stroke="#ff0000" stroke-width="0.9" />
<line x1="123.69" y1="342.87" x2="126.28" y2="342.87" stroke="#ff0000" stroke-width="1.0" />
<line x1="123.69" y1="344.21" x2="126.28" y2="344.21" stroke="#ff0000" stroke-width="1.0" />
<rect x="124.19" y="342.74" width="1.6" height="1.6" fill="#ff0000"/>
<line x1="128.93" y1="340.09" x2="128.93" y2="341.54" stroke="#ff0000" stroke-width="0.9" />
<line x1="127.63" y1="340.09" x2="130.23" y2="340.09" stroke="#ff0000" stroke-width="1.0" />
<line x1="127.63" y1="341.54" x2="130.23" y2="341.54" stroke="#ff0000" stroke-width="1.0" />
<rect x="128.13" y="340.01" width="1.6" height="1.6" fill="#ff0000"/>
<line x1="132.88" y1="337.32" x2="132.88" y2="338.86" stroke="#ff0000" stroke-width="0.9" />
<line x1="131.57" y1="337.32" x2="134.18" y2="337.32" stroke="#ff0000" stroke-width="1.0" />
<line x1="131.57" y1="338.86" x2="134.18" y2="338.86" stroke="#ff0000" stroke-width="1.0" />
<rect x="132.07" y="337.29" width="1.6" height="1.6" fill="#ff0000"/>
<line x1="136.82" y1="334.65" x2="136.82" y2="336.30" stroke="#ff0000" stroke-width="0.9" />
<line x1="135.52" y1="334.65" x2="138.12" y2="334.65" stroke="#ff0000" stroke-width="1.0" />
<line x1="135.52" y1="336.30" x2="138.12" y2="336.30" stroke="#ff0000" stroke-width="1.0" />
<rect x="136.02" y="334.67" width="1.6" height="1.6" fill="#ff0000"/>
<line x1="140.76" y1="331.98" x2="140.76" y2="333.73" stroke="#ff0000" stroke-width="0.9" />
<line x1="139.46" y1="331.98" x2="142.06" y2="331.98" stroke="#ff0000" stroke-width="1.0" />
<line x1="139.46" y1="333.73" x2="142.06" y2="333.73" stroke="#ff0000" stroke-width="1.0" />
<rect x="139.96" y="332.06" width="1.6" height="1.6" fill="#ff0000"/>
<line x1="144.71" y1="329.42" x2="144.71" y2="331.28" stroke="#ff0000" stroke-width="0.9" />
<line x1="143.41" y1="329.42" x2="146.01" y2="329.42" stroke="#ff0000" stroke-width="1.0" />
<line x1="143.41" y1="331.28" x2="146.01" y2="331.28" stroke="#ff0000" stroke-width="1.0" />
<rect x="143.91" y="329.55" width="1.6" height="1.6" fill="#ff0000"/>
<line x1="148.66" y1="326.87" x2="148.66" y2="328.82" stroke="#ff0000" stroke-width="0.9" />
<line x1="147.35" y1="326.87" x2="149.96" y2="326.87" stroke="#ff0000" stroke-width="1.0" />
<line x1="147.35" y1="328.82" x2="149.96" y2="328.82" stroke="#ff0000" stroke-width="1.0" />
<rect x="147.85" y="327.04" width="1.6" height="1.6" fill="#ff0000"/>
<line x1="152.60" y1="324.42" x2="152.60" y2="326.47" stroke="#ff0000" stroke-width="0.9" />
<line x1="151.30" y1="324.42" x2="153.90" y2="324.42" stroke="#ff0000" stroke-width="1.0" />
<line x1="151.30" y1="326.47" x2="153.90" y2="326.47" stroke="#ff0000" stroke-width="1.0" />
<rect x="151.80" y="324.65" width="1.6" height="1.6" fill="#ff0000"/>
<line x1="156.55" y1="321.97" x2="156.55" y2="324.13" stroke="#ff0000" stroke-width="0.9" />
<line x1="155.25" y1="321.97" x2="157.85" y2="321.97" stroke="#ff0000" stroke-width="1.0" />
<line x1="155.25" y1="324.13" x2="157.85" y2="324.13" stroke="#ff0000" stroke-width="1.0" />
<rect x="155.75" y="322.25" width="1.6" height="1.6" fill="#ff0000"/>
<line x1="160.49" y1="319.85" x2="160.49" y2="322.11" stroke="#ff0000" stroke-width="0.9" />
<line x1="159.19" y1="319.85" x2="161.79" y2="319.85" stroke="#ff0000" stroke-width="1.0" />
<line x1="159.19" y1="322.11" x2="161.79" y2="322.11" stroke="#ff0000" stroke-width="1.0" />
<rect x="159.69" y="320.18" width="1.6" height="1.6" fill="#ff0000"/>
<line x1="164.44" y1="317.73" x2="164.44" y2="320.09" stroke="#ff0000" stroke-width="0.9" />
<line x1="163.13" y1="317.73" x2="165.74" y2="317.73" stroke="#ff0000" stroke-width="1.0" />
<line x1="163.13" y1="320.09" x2="165.74" y2="320.09" stroke="#ff0000" stroke-width="1.0" />
<rect x="163.63" y="318.11" width="1.6" height="1.6" fill="#ff0000"/>
<line x1="168.38" y1="315.99" x2="168.38" y2="318.45" stroke="#ff0000" stroke-width="0.9" />
<line x1="167.08" y1="315.99" x2="169.68" y2="315.99" stroke="#ff0000" stroke-width="1.0" />
<line x1="167.08" y1="318.45" x2="169.68" y2="318.45" stroke="#ff0000" stroke-width="1.0" />
<rect x="167.58" y="316.42" width="1.6" height="1.6" fill="#ff0000"/>
<line x1="172.32" y1="314.25" x2="172.32" y2="316.81" stroke="#ff0000" stroke-width="0.9" />
<line x1="171.02" y1="314.25" x2="173.62" y2="314.25" stroke="#ff0000" stroke-width="1.0" />
<line x1="171.02" y1="316.81" x2="173.62" y2="316.81" stroke="#ff0000" stroke-width="1.0" />
<rect x="171.52" y="314.73" width="1.6" height="1.6" fill="#ff0000"/>
<line x1="176.27" y1="312.70" x2="176.27" y2="315.36" stroke="#ff0000" stroke-width="0.9" />
<line x1="174.97" y1="312.70" x2="177.57" y2="312.70" stroke="#ff0000" stroke-width="1.0" />
<line x1="174.97" y1="315.36" x2="177.57" y2="315.36" stroke="#ff0000" stroke-width="1.0" />
<rect x="175.47" y="313.23" width="1.6" height="1.6" fill="#ff0000"/>
<line x1="180.22" y1="311.15" x2="180.22" y2="313.91" stroke="#ff0000" stroke-width="0.9" />
<line x1="178.91" y1="311.15" x2="181.52" y2="311.15" stroke="#ff0000" stroke-width="1.0" />
<line x1="178.91" y1="313.91" x2="181.52" y2="313.91" stroke="#ff0000" stroke-width="1.0" />
<rect x="179.41" y="311.73" width="1.6" height="1.6" fill="#ff0000"/>
<line x1="184.16" y1="309.60" x2="184.16" y2="312.46" stroke="#ff0000" stroke-width="0.9" />
<line x1="182.86" y1="309.60" x2="185.46" y2="309.60" stroke="#ff0000" stroke-width="1.0" />
<line x1="182.86" y1="312.46" x2="185.46" y2="312.46" stroke="#ff0000" stroke-width="1.0" />
<rect x="183.36" y="310.23" width="1.6" height="1.6" fill="#ff0000"/>
<line x1="188.11" y1="308.05" x2="188.11" y2="311.02" stroke="#ff0000" stroke-width="0.9" />
<line x1="186.81" y1="308.05" x2="189.41" y2="308.05" stroke="#ff0000" stroke-width="1.0" />
<line x1="186.81" y1="311.02" x2="189.41" y2="311.02" stroke="#ff0000" stroke-width="1.0" />
<rect x="187.31" y="308.73" width="1.6" height="1.6" fill="#ff0000"/>
<line x1="192.05" y1="306.69" x2="192.05" y2="309.76" stroke="#ff0000" stroke-width="0.9" />
<line x1="190.75" y1="306.69" x2="193.35" y2="306.69" stroke="#ff0000" stroke-width="1.0" />
<line x1="190.75" y1="309.76" x2="193.35" y2="309.76" stroke="#ff0000" stroke-width="1.0" />
<rect x="191.25" y="307.42" width="1.6" height="1.6" fill="#ff0000"/>
<line x1="196.00" y1="305.33" x2="196.00" y2="308.50" stroke="#ff0000" stroke-width="0.9" />
<line x1="194.69" y1="305.33" x2="197.30" y2="305.33" stroke="#ff0000" stroke-width="1.0" />
<line x1="194.69" y1="308.50" x2="197.30" y2="308.50" stroke="#ff0000" stroke-width="1.0" />
<rect x="195.19" y="306.12" width="1.6" height="1.6" fill="#ff0000"/>
<line x1="199.94" y1="303.97" x2="199.94" y2="307.24" stroke="#ff0000" stroke-width="0.9" />
<line x1="198.64" y1="303.97" x2="201.24" y2="303.97" stroke="#ff0000" stroke-width="1.0" />
<line x1="198.64" y1="307.24" x2="201.24" y2="307.24" stroke="#ff0000" stroke-width="1.0" />
<rect x="199.14" y="304.81" width="1.6" height="1.6" fill="#ff0000"/>
<line x1="203.88" y1="302.66" x2="203.88" y2="305.93" stroke="#ff0000" stroke-width="0.9" />
<line x1="202.58" y1="302.66" x2="205.19" y2="302.66" stroke="#ff0000" stroke-width="1.0" />
<line x1="202.58" y1="305.93" x2="205.19" y2="305.93" stroke="#ff0000" stroke-width="1.0" />
<rect x="203.08" y="303.50" width="1.6" height="1.6" fill="#ff0000"/>
<line x1="207.83" y1="301.36" x2="207.83" y2="304.63" stroke="#ff0000" stroke-width="0.9" />
<line x1="206.53" y1="301.36" x2="209.13" y2="301.36" stroke="#ff0000" stroke-width="1.0" />
<line x1="206.53" y1="304.63" x2="209.13" y2="304.63" stroke="#ff0000" stroke-width="1.0" />
<rect x="207.03" y="302.19" width="1.6" height="1.6" fill="#ff0000"/>
<line x1="211.77" y1="300.35" x2="211.77" y2="303.62" stroke="#ff0000" stroke-width="0.9" />
<line x1="210.47" y1="300.35" x2="213.07" y2="300.35" stroke="#ff0000" stroke-width="1.0" />
<line x1="210.47" y1="303.62" x2="213.07" y2="303.62" stroke="#ff0000" stroke-width="1.0" />
<rect x="210.97" y="301.19" width="1.6" height="1.6" fill="#ff0000"/>
<line x1="215.72" y1="299.35" x2="215.72" y2="302.62" stroke="#ff0000" stroke-width="0.9" />
<line x1="214.42" y1="299.35" x2="217.02" y2="299.35" stroke="#ff0000" stroke-width="1.0" />
<line x1="214.42" y1="302.62" x2="217.02" y2="302.62" stroke="#ff0000" stroke-width="1.0" />
<rect x="214.92" y="300.19" width="1.6" height="1.6" fill="#ff0000"/>
<line x1="219.67" y1="298.35" x2="219.67" y2="301.62" stroke="#ff0000" stroke-width="0.9" />
<line x1="218.37" y1="298.35" x2="220.97" y2="298.35" stroke="#ff0000" stroke-width="1.0" />
<line x1="218.37" y1="301.62" x2="220.97" y2="301.62" stroke="#ff0000" stroke-width="1.0" />
<rect x="218.87" y="299.18" width="1.6" height="1.6" fill="#ff0000"/>
<line x1="223.61" y1="297.35" x2="223.61" y2="300.62" stroke="#ff0000" stroke-width="0.9" />
<line x1="222.31" y1="297.35" x2="224.91" y2="297.35" stroke="#ff0000" stroke-width="1.0" />
<line x1="222.31" y1="300.62" x2="224.91" y2="300.62" stroke="#ff0000" stroke-width="1.0" />
<rect x="222.81" y="298.18" width="1.6" height="1.6" fill="#ff0000"/>
<line x1="227.56" y1="296.34" x2="227.56" y2="299.61" stroke="#ff0000" stroke-width="0.9" />
<line x1="226.25" y1="296.34" x2="228.86" y2="296.34" stroke="#ff0000" stroke-width="1.0" />
<line x1="226.25" y1="299.61" x2="228.86" y2="299.61" stroke="#ff0000" stroke-width="1.0" />
<rect x="226.75" y="297.18" width="1.6" height="1.6" fill="#ff0000"/>
<line x1="231.50" y1="295.54" x2="231.50" y2="298.81" stroke="#ff0000" stroke-width="0.9" />
<line x1="230.20" y1="295.54" x2="232.80" y2="295.54" stroke="#ff0000" stroke-width="1.0" />
<line x1="230.20" y1="298.81" x2="232.80" y2="298.81" stroke="#ff0000" stroke-width="1.0" />
<rect x="230.70" y="296.37" width="1.6" height="1.6" fill="#ff0000"/>
<line x1="235.44" y1="294.73" x2="235.44" y2="298.00" stroke="#ff0000" stroke-width="0.9" />
<line x1="234.14" y1="294.73" x2="236.75" y2="294.73" stroke="#ff0000" stroke-width="1.0" />
<line x1="234.14" y1="298.00" x2="236.75" y2="298.00" stroke="#ff0000" stroke-width="1.0" />
<rect x="234.64" y="295.56" width="1.6" height="1.6" fill="#ff0000"/>
<line x1="239.39" y1="293.92" x2="239.39" y2="297.19" stroke="#ff0000" stroke-width="0.9" />
<line x1="238.09" y1="293.92" x2="240.69" y2="293.92" stroke="#ff0000" stroke-width="1.0" />
<line x1="238.09" y1="297.19" x2="240.69" y2="297.19" stroke="#ff0000" stroke-width="1.0" />
<rect x="238.59" y="294.76" width="1.6" height="1.6" fill="#ff0000"/>
<line x1="243.33" y1="293.12" x2="243.33" y2="296.39" stroke="#ff0000" stroke-width="0.9" />
<line x1="242.03" y1="293.12" x2="244.63" y2="293.12" stroke="#ff0000" stroke-width="1.0" />
<line x1="242.03" y1="296.39" x2="244.63" y2="296.39" stroke="#ff0000" stroke-width="1.0" />
<rect x="242.53" y="293.95" width="1.6" height="1.6" fill="#ff0000"/>
<line x1="247.28" y1="292.31" x2="247.28" y2="295.58" stroke="#ff0000" stroke-width="0.9" />
<line x1="245.98" y1="292.31" x2="248.58" y2="292.31" stroke="#ff0000" stroke-width="1.0" />
<line x1="245.98" y1="295.58" x2="248.58" y2="295.58" stroke="#ff0000" stroke-width="1.0" />
<rect x="246.48" y="293.14" width="1.6" height="1.6" fill="#ff0000"/>
<line x1="251.23" y1="291.57" x2="251.23" y2="294.84" stroke="#ff0000" stroke-width="0.9" />
<line x1="249.93" y1="291.57" x2="252.53" y2="291.57" stroke="#ff0000" stroke-width="1.0" />
<line x1="249.93" y1="294.84" x2="252.53" y2="294.84" stroke="#ff0000" stroke-width="1.0" />
<rect x="250.43" y="292.41" width="1.6" height="1.6" fill="#ff0000"/>
<line x1="255.17" y1="290.84" x2="255.17" y2="294.11" stroke="#ff0000" stroke-width="0.9" />
<line x1="253.87" y1="290.84" x2="256.47" y2="290.84" stroke="#ff0000" stroke-width="1.0" />
<line x1="253.87" y1="294.11" x2="256.47" y2="294.11" stroke="#ff0000" stroke-width="1.0" />
<rect x="254.37" y="291.67" width="1.6" height="1.6" fill="#ff0000"/>
<line x1="259.12" y1="290.10" x2="259.12" y2="293.37" stroke="#ff0000" stroke-width="0.9" />
<line x1="257.81" y1="290.10" x2="260.42" y2="290.10" stroke="#ff0000" stroke-width="1.0" />
<line x1="257.81" y1="293.37" x2="260.42" y2="293.37" stroke="#ff0000" stroke-width="1.0" />
<rect x="258.31" y="290.94" width="1.6" height="1.6" fill="#ff0000"/>
<line x1="263.06" y1="289.37" x2="263.06" y2="292.64" stroke="#ff0000" stroke-width="0.9" />
<line x1="261.76" y1="289.37" x2="264.36" y2="289.37" stroke="#ff0000" stroke-width="1.0" />
<line x1="261.76" y1="292.64" x2="264.36" y2="292.64" stroke="#ff0000" stroke-width="1.0" />
<rect x="262.26" y="290.20" width="1.6" height="1.6" fill="#ff0000"/>
<line x1="174.00" y1="343.50" x2="188.20" y2="343.50" stroke="#808080" stroke-width="1" />
<rect x="180.10" y="342.50" width="2" height="2" fill="#000"/>
<text x="196.40" y="347.20" font-size="10.4" font-weight="normal" text-anchor="start" >WT</text>
<line x1="174.00" y1="360.50" x2="188.20" y2="360.50" stroke="#ff5050" stroke-width="1" />
<rect x="180.10" y="359.50" width="2" height="2" fill="#ff0000"/>
<text x="196.40" y="364.20" font-size="10.4" font-weight="normal" text-anchor="start" >Δ<tspan font-style="italic">yhjC</tspan></text>
<line x1="174.00" y1="377.50" x2="188.20" y2="377.50" stroke="#6060ff" stroke-width="1" />
<rect x="180.10" y="376.50" width="2" height="2" fill="#0000ff"/>
<text x="196.40" y="381.20" font-size="10.4" font-weight="normal" text-anchor="start" >C<tspan font-style="italic">yhjC</tspan></text>
<line x1="347.80" y1="270.88" x2="347.80" y2="402.80" stroke="#000" stroke-width="2" />
<line x1="346.80" y1="401.80" x2="545.40" y2="401.80" stroke="#000" stroke-width="2" />
<line x1="344.40" y1="401.80" x2="347.80" y2="401.80" stroke="#000" stroke-width="2" />
<text x="342.50" y="405.30" font-size="9.7" font-weight="bold" text-anchor="end"  stroke="#000" stroke-width="0.25">0.0</text>
<line x1="344.40" y1="379.98" x2="347.80" y2="379.98" stroke="#000" stroke-width="2" />
<text x="342.50" y="383.48" font-size="9.7" font-weight="bold" text-anchor="end"  stroke="#000" stroke-width="0.25">0.1</text>
<line x1="344.40" y1="358.16" x2="347.80" y2="358.16" stroke="#000" stroke-width="2" />
<text x="342.50" y="361.66" font-size="9.7" font-weight="bold" text-anchor="end"  stroke="#000" stroke-width="0.25">0.2</text>
<line x1="344.40" y1="336.34" x2="347.80" y2="336.34" stroke="#000" stroke-width="2" />
<text x="342.50" y="339.84" font-size="9.7" font-weight="bold" text-anchor="end"  stroke="#000" stroke-width="0.25">0.3</text>
<line x1="344.40" y1="314.52" x2="347.80" y2="314.52" stroke="#000" stroke-width="2" />
<text x="342.50" y="318.02" font-size="9.7" font-weight="bold" text-anchor="end"  stroke="#000" stroke-width="0.25">0.4</text>
<line x1="344.40" y1="292.70" x2="347.80" y2="292.70" stroke="#000" stroke-width="2" />
<text x="342.50" y="296.20" font-size="9.7" font-weight="bold" text-anchor="end"  stroke="#000" stroke-width="0.25">0.5</text>
<line x1="344.40" y1="270.88" x2="347.80" y2="270.88" stroke="#000" stroke-width="2" />
<text x="342.50" y="274.38" font-size="9.7" font-weight="bold" text-anchor="end"  stroke="#000" stroke-width="0.25">0.6</text>
<line x1="347.80" y1="401.80" x2="347.80" y2="405.80" stroke="#000" stroke-width="2" />
<text x="347.80" y="417.20" font-size="10" font-weight="bold" text-anchor="middle"  stroke="#000" stroke-width="0.25">0</text>
<line x1="363.60" y1="401.80" x2="363.60" y2="405.80" stroke="#000" stroke-width="2" />
<text x="363.60" y="417.20" font-size="10" font-weight="bold" text-anchor="middle"  stroke="#000" stroke-width="0.25">2</text>
<line x1="379.40" y1="401.80" x2="379.40" y2="405.80" stroke="#000" stroke-width="2" />
<text x="379.40" y="417.20" font-size="10" font-weight="bold" text-anchor="middle"  stroke="#000" stroke-width="0.25">4</text>
<line x1="395.20" y1="401.80" x2="395.20" y2="405.80" stroke="#000" stroke-width="2" />
<text x="395.20" y="417.20" font-size="10" font-weight="bold" text-anchor="middle"  stroke="#000" stroke-width="0.25">6</text>
<line x1="411.00" y1="401.80" x2="411.00" y2="405.80" stroke="#000" stroke-width="2" />
<text x="411.00" y="417.20" font-size="10" font-weight="bold" text-anchor="middle"  stroke="#000" stroke-width="0.25">8</text>
<line x1="426.80" y1="401.80" x2="426.80" y2="405.80" stroke="#000" stroke-width="2" />
<text x="426.80" y="417.20" font-size="10" font-weight="bold" text-anchor="middle"  stroke="#000" stroke-width="0.25">10</text>
<line x1="442.60" y1="401.80" x2="442.60" y2="405.80" stroke="#000" stroke-width="2" />
<text x="442.60" y="417.20" font-size="10" font-weight="bold" text-anchor="middle"  stroke="#000" stroke-width="0.25">12</text>
<line x1="458.40" y1="401.80" x2="458.40" y2="405.80" stroke="#000" stroke-width="2" />
<text x="458.40" y="417.20" font-size="10" font-weight="bold" text-anchor="middle"  stroke="#000" stroke-width="0.25">14</text>
<line x1="474.20" y1="401.80" x2="474.20" y2="405.80" stroke="#000" stroke-width="2" />
<text x="474.20" y="417.20" font-size="10" font-weight="bold" text-anchor="middle"  stroke="#000" stroke-width="0.25">16</text>
<line x1="490.00" y1="401.80" x2="490.00" y2="405.80" stroke="#000" stroke-width="2" />
<text x="490.00" y="417.20" font-size="10" font-weight="bold" text-anchor="middle"  stroke="#000" stroke-width="0.25">18</text>
<line x1="505.80" y1="401.80" x2="505.80" y2="405.80" stroke="#000" stroke-width="2" />
<text x="505.80" y="417.20" font-size="10" font-weight="bold" text-anchor="middle"  stroke="#000" stroke-width="0.25">20</text>
<line x1="521.60" y1="401.80" x2="521.60" y2="405.80" stroke="#000" stroke-width="2" />
<text x="521.60" y="417.20" font-size="10" font-weight="bold" text-anchor="middle"  stroke="#000" stroke-width="0.25">22</text>
<line x1="537.40" y1="401.80" x2="537.40" y2="405.80" stroke="#000" stroke-width="2" />
<text x="537.40" y="417.20" font-size="10" font-weight="bold" text-anchor="middle"  stroke="#000" stroke-width="0.25">24</text>
<text x="446.50" y="433.10" font-size="10.7" font-weight="bold" text-anchor="middle"  stroke="#000" stroke-width="0.25">Time (h)</text>
<text transform="translate(320.30,350.50) rotate(-90)" font-size="10.8" font-weight="bold" text-anchor="start" stroke="#000" stroke-width="0.25">OD<tspan font-size="7.6" dy="1.9">600</tspan></text>
<text x="355.40" y="281.90" font-size="10.6" font-weight="normal" text-anchor="start"  textLength="32.5" lengthAdjust="spacingAndGlyphs">DMEM</text>
<polyline points="347.80,398.75 351.75,398.31 355.70,396.13 359.65,392.20 363.60,389.14 367.55,385.44 371.50,380.85 375.45,374.53 379.40,365.80 383.35,354.89 387.30,341.80 391.25,327.61 395.20,313.43 399.15,300.12 403.10,291.61 407.05,289.43 411.00,290.95 414.95,292.05 418.90,292.55 422.85,293.06 426.80,293.57 430.75,293.94 434.70,294.30 438.65,294.66 442.60,295.03 446.55,295.39 450.50,295.75 454.45,296.05 458.40,296.34 462.35,296.63 466.30,296.92 470.25,297.21 474.20,297.50 478.15,297.72 482.10,297.94 486.05,298.16 490.00,298.37 493.95,298.59 497.90,298.81 501.85,299.03 505.80,299.25 509.75,299.39 513.70,299.54 517.65,299.68 521.60,299.83 525.55,299.97 529.50,300.12 533.45,300.26 537.40,300.41 541.35,300.56" fill="none" stroke="#4040ff" stroke-width="0.9"/>
<rect x="347.10" y="398.05" width="1.4" height="1.4" fill="#0000ff"/>
<rect x="351.05" y="397.61" width="1.4" height="1.4" fill="#0000ff"/>
<rect x="355.00" y="395.43" width="1.4" height="1.4" fill="#0000ff"/>
<rect x="358.95" y="391.50" width="1.4" height="1.4" fill="#0000ff"/>
<rect x="362.90" y="388.44" width="1.4" height="1.4" fill="#0000ff"/>
<rect x="366.85" y="384.74" width="1.4" height="1.4" fill="#0000ff"/>
<rect x="370.80" y="380.15" width="1.4" height="1.4" fill="#0000ff"/>
<rect x="374.75" y="373.83" width="1.4" height="1.4" fill="#0000ff"/>
<rect x="378.70" y="365.10" width="1.4" height="1.4" fill="#0000ff"/>
<rect x="382.65" y="354.19" width="1.4" height="1.4" fill="#0000ff"/>
<rect x="386.60" y="341.10" width="1.4" height="1.4" fill="#0000ff"/>
<rect x="390.55" y="326.91" width="1.4" height="1.4" fill="#0000ff"/>
<rect x="394.50" y="312.73" width="1.4" height="1.4" fill="#0000ff"/>
<rect x="398.45" y="299.42" width="1.4" height="1.4" fill="#0000ff"/>
<rect x="402.40" y="290.91" width="1.4" height="1.4" fill="#0000ff"/>
<rect x="406.35" y="288.73" width="1.4" height="1.4" fill="#0000ff"/>
<rect x="410.30" y="290.25" width="1.4" height="1.4" fill="#0000ff"/>
<rect x="414.25" y="291.35" width="1.4" height="1.4" fill="#0000ff"/>
<rect x="418.20" y="291.85" width="1.4" height="1.4" fill="#0000ff"/>
<rect x="422.15" y="292.36" width="1.4" height="1.4" fill="#0000ff"/>
<rect x="426.10" y="292.87" width="1.4" height="1.4" fill="#0000ff"/>
<rect x="430.05" y="293.24" width="1.4" height="1.4" fill="#0000ff"/>
<rect x="434.00" y="293.60" width="1.4" height="1.4" fill="#0000ff"/>
<rect x="437.95" y="293.96" width="1.4" height="1.4" fill="#0000ff"/>
<rect x="441.90" y="294.33" width="1.4" height="1.4" fill="#0000ff"/>
<rect x="445.85" y="294.69" width="1.4" height="1.4" fill="#0000ff"/>
<rect x="449.80" y="295.05" width="1.4" height="1.4" fill="#0000ff"/>
<rect x="453.75" y="295.35" width="1.4" height="1.4" fill="#0000ff"/>
<rect x="457.70" y="295.64" width="1.4" height="1.4" fill="#0000ff"/>
<rect x="461.65" y="295.93" width="1.4" height="1.4" fill="#0000ff"/>
<rect x="465.60" y="296.22" width="1.4" height="1.4" fill="#0000ff"/>
<rect x="469.55" y="296.51" width="1.4" height="1.4" fill="#0000ff"/>
<rect x="473.50" y="296.80" width="1.4" height="1.4" fill="#0000ff"/>
<rect x="477.45" y="297.02" width="1.4" height="1.4" fill="#0000ff"/>
<rect x="481.40" y="297.24" width="1.4" height="1.4" fill="#0000ff"/>
<rect x="485.35" y="297.46" width="1.4" height="1.4" fill="#0000ff"/>
<rect x="489.30" y="297.67" width="1.4" height="1.4" fill="#0000ff"/>
<rect x="493.25" y="297.89" width="1.4" height="1.4" fill="#0000ff"/>
<rect x="497.20" y="298.11" width="1.4" height="1.4" fill="#0000ff"/>
<rect x="501.15" y="298.33" width="1.4" height="1.4" fill="#0000ff"/>
<rect x="505.10" y="298.55" width="1.4" height="1.4" fill="#0000ff"/>
<rect x="509.05" y="298.69" width="1.4" height="1.4" fill="#0000ff"/>
<rect x="513.00" y="298.84" width="1.4" height="1.4" fill="#0000ff"/>
<rect x="516.95" y="298.98" width="1.4" height="1.4" fill="#0000ff"/>
<rect x="520.90" y="299.13" width="1.4" height="1.4" fill="#0000ff"/>
<rect x="524.85" y="299.27" width="1.4" height="1.4" fill="#0000ff"/>
<rect x="528.80" y="299.42" width="1.4" height="1.4" fill="#0000ff"/>
<rect x="532.75" y="299.56" width="1.4" height="1.4" fill="#0000ff"/>
<rect x="536.70" y="299.71" width="1.4" height="1.4" fill="#0000ff"/>
<rect x="540.65" y="299.86" width="1.4" height="1.4" fill="#0000ff"/>
<polyline points="347.80,398.31 351.75,398.09 355.70,396.35 359.65,391.98 363.60,389.36 367.55,386.09 371.50,382.16 375.45,376.71 379.40,370.16 383.35,361.43 387.30,349.87 391.25,336.78 395.20,323.25 399.15,311.25 403.10,302.52 407.05,295.97 411.00,295.10 414.95,295.75 418.90,296.34 422.85,296.92 426.80,297.50 430.75,297.90 434.70,298.30 438.65,298.70 442.60,299.10 446.55,299.50 450.50,299.90 454.45,300.19 458.40,300.48 462.35,300.77 466.30,301.06 470.25,301.36 474.20,301.65 478.15,301.86 482.10,302.08 486.05,302.30 490.00,302.52 493.95,302.74 497.90,302.96 501.85,303.17 505.80,303.39 509.75,303.51 513.70,303.63 517.65,303.76 521.60,303.88 525.55,304.00 529.50,304.12 533.45,304.24 537.40,304.36 541.35,304.48" fill="none" stroke="#ff3030" stroke-width="0.9"/>
<line x1="347.80" y1="394.38" x2="347.80" y2="402.24" stroke="#ff0000" stroke-width="0.9" />
<line x1="346.50" y1="394.38" x2="349.10" y2="394.38" stroke="#ff0000" stroke-width="1.0" />
<line x1="346.50" y1="402.24" x2="349.10" y2="402.24" stroke="#ff0000" stroke-width="1.0" />
<rect x="347.00" y="397.51" width="1.6" height="1.6" fill="#ff0000"/>
<line x1="351.75" y1="394.16" x2="351.75" y2="402.02" stroke="#ff0000" stroke-width="0.9" />
<line x1="350.45" y1="394.16" x2="353.05" y2="394.16" stroke="#ff0000" stroke-width="1.0" />
<line x1="350.45" y1="402.02" x2="353.05" y2="402.02" stroke="#ff0000" stroke-width="1.0" />
<rect x="350.95" y="397.29" width="1.6" height="1.6" fill="#ff0000"/>
<line x1="355.70" y1="392.42" x2="355.70" y2="400.27" stroke="#ff0000" stroke-width="0.9" />
<line x1="354.40" y1="392.42" x2="357.00" y2="392.42" stroke="#ff0000" stroke-width="1.0" />
<line x1="354.40" y1="400.27" x2="357.00" y2="400.27" stroke="#ff0000" stroke-width="1.0" />
<rect x="354.90" y="395.55" width="1.6" height="1.6" fill="#ff0000"/>
<line x1="359.65" y1="388.05" x2="359.65" y2="395.91" stroke="#ff0000" stroke-width="0.9" />
<line x1="358.35" y1="388.05" x2="360.95" y2="388.05" stroke="#ff0000" stroke-width="1.0" />
<line x1="358.35" y1="395.91" x2="360.95" y2="395.91" stroke="#ff0000" stroke-width="1.0" />
<rect x="358.85" y="391.18" width="1.6" height="1.6" fill="#ff0000"/>
<line x1="363.60" y1="386.20" x2="363.60" y2="392.53" stroke="#ff0000" stroke-width="0.9" />
<line x1="362.30" y1="386.20" x2="364.90" y2="386.20" stroke="#ff0000" stroke-width="1.0" />
<line x1="362.30" y1="392.53" x2="364.90" y2="392.53" stroke="#ff0000" stroke-width="1.0" />
<rect x="362.80" y="388.56" width="1.6" height="1.6" fill="#ff0000"/>
<line x1="367.55" y1="382.93" x2="367.55" y2="389.25" stroke="#ff0000" stroke-width="0.9" />
<line x1="366.25" y1="382.93" x2="368.85" y2="382.93" stroke="#ff0000" stroke-width="1.0" />
<line x1="366.25" y1="389.25" x2="368.85" y2="389.25" stroke="#ff0000" stroke-width="1.0" />
<rect x="366.75" y="385.29" width="1.6" height="1.6" fill="#ff0000"/>
<line x1="371.50" y1="379.00" x2="371.50" y2="385.33" stroke="#ff0000" stroke-width="0.9" />
<line x1="370.20" y1="379.00" x2="372.80" y2="379.00" stroke="#ff0000" stroke-width="1.0" />
<line x1="370.20" y1="385.33" x2="372.80" y2="385.33" stroke="#ff0000" stroke-width="1.0" />
<rect x="370.70" y="381.36" width="1.6" height="1.6" fill="#ff0000"/>
<line x1="375.45" y1="373.54" x2="375.45" y2="379.87" stroke="#ff0000" stroke-width="0.9" />
<line x1="374.15" y1="373.54" x2="376.75" y2="373.54" stroke="#ff0000" stroke-width="1.0" />
<line x1="374.15" y1="379.87" x2="376.75" y2="379.87" stroke="#ff0000" stroke-width="1.0" />
<rect x="374.65" y="375.91" width="1.6" height="1.6" fill="#ff0000"/>
<line x1="379.40" y1="367.00" x2="379.40" y2="373.32" stroke="#ff0000" stroke-width="0.9" />
<line x1="378.10" y1="367.00" x2="380.70" y2="367.00" stroke="#ff0000" stroke-width="1.0" />
<line x1="378.10" y1="373.32" x2="380.70" y2="373.32" stroke="#ff0000" stroke-width="1.0" />
<rect x="378.60" y="369.36" width="1.6" height="1.6" fill="#ff0000"/>
<line x1="383.35" y1="358.27" x2="383.35" y2="364.60" stroke="#ff0000" stroke-width="0.9" />
<line x1="382.05" y1="358.27" x2="384.65" y2="358.27" stroke="#ff0000" stroke-width="1.0" />
<line x1="382.05" y1="364.60" x2="384.65" y2="364.60" stroke="#ff0000" stroke-width="1.0" />
<rect x="382.55" y="360.63" width="1.6" height="1.6" fill="#ff0000"/>
<line x1="387.30" y1="346.70" x2="387.30" y2="353.03" stroke="#ff0000" stroke-width="0.9" />
<line x1="386.00" y1="346.70" x2="388.60" y2="346.70" stroke="#ff0000" stroke-width="1.0" />
<line x1="386.00" y1="353.03" x2="388.60" y2="353.03" stroke="#ff0000" stroke-width="1.0" />
<rect x="386.50" y="349.07" width="1.6" height="1.6" fill="#ff0000"/>
<line x1="391.25" y1="333.61" x2="391.25" y2="339.94" stroke="#ff0000" stroke-width="0.9" />
<line x1="389.95" y1="333.61" x2="392.55" y2="333.61" stroke="#ff0000" stroke-width="1.0" />
<line x1="389.95" y1="339.94" x2="392.55" y2="339.94" stroke="#ff0000" stroke-width="1.0" />
<rect x="390.45" y="335.98" width="1.6" height="1.6" fill="#ff0000"/>
<line x1="395.20" y1="320.08" x2="395.20" y2="326.41" stroke="#ff0000" stroke-width="0.9" />
<line x1="393.90" y1="320.08" x2="396.50" y2="320.08" stroke="#ff0000" stroke-width="1.0" />
<line x1="393.90" y1="326.41" x2="396.50" y2="326.41" stroke="#ff0000" stroke-width="1.0" />
<rect x="394.40" y="322.45" width="1.6" height="1.6" fill="#ff0000"/>
<line x1="399.15" y1="308.08" x2="399.15" y2="314.41" stroke="#ff0000" stroke-width="0.9" />
<line x1="397.85" y1="308.08" x2="400.45" y2="308.08" stroke="#ff0000" stroke-width="1.0" />
<line x1="397.85" y1="314.41" x2="400.45" y2="314.41" stroke="#ff0000" stroke-width="1.0" />
<rect x="398.35" y="310.45" width="1.6" height="1.6" fill="#ff0000"/>
<line x1="403.10" y1="299.36" x2="403.10" y2="305.68" stroke="#ff0000" stroke-width="0.9" />
<line x1="401.80" y1="299.36" x2="404.40" y2="299.36" stroke="#ff0000" stroke-width="1.0" />
<line x1="401.80" y1="305.68" x2="404.40" y2="305.68" stroke="#ff0000" stroke-width="1.0" />
<rect x="402.30" y="301.72" width="1.6" height="1.6" fill="#ff0000"/>
<line x1="407.05" y1="292.81" x2="407.05" y2="299.14" stroke="#ff0000" stroke-width="0.9" />
<line x1="405.75" y1="292.81" x2="408.35" y2="292.81" stroke="#ff0000" stroke-width="1.0" />
<line x1="405.75" y1="299.14" x2="408.35" y2="299.14" stroke="#ff0000" stroke-width="1.0" />
<rect x="406.25" y="295.17" width="1.6" height="1.6" fill="#ff0000"/>
<line x1="411.00" y1="291.94" x2="411.00" y2="298.26" stroke="#ff0000" stroke-width="0.9" />
<line x1="409.70" y1="291.94" x2="412.30" y2="291.94" stroke="#ff0000" stroke-width="1.0" />
<line x1="409.70" y1="298.26" x2="412.30" y2="298.26" stroke="#ff0000" stroke-width="1.0" />
<rect x="410.20" y="294.30" width="1.6" height="1.6" fill="#ff0000"/>
<line x1="414.95" y1="292.59" x2="414.95" y2="298.92" stroke="#ff0000" stroke-width="0.9" />
<line x1="413.65" y1="292.59" x2="416.25" y2="292.59" stroke="#ff0000" stroke-width="1.0" />
<line x1="413.65" y1="298.92" x2="416.25" y2="298.92" stroke="#ff0000" stroke-width="1.0" />
<rect x="414.15" y="294.95" width="1.6" height="1.6" fill="#ff0000"/>
<line x1="418.90" y1="293.17" x2="418.90" y2="299.50" stroke="#ff0000" stroke-width="0.9" />
<line x1="417.60" y1="293.17" x2="420.20" y2="293.17" stroke="#ff0000" stroke-width="1.0" />
<line x1="417.60" y1="299.50" x2="420.20" y2="299.50" stroke="#ff0000" stroke-width="1.0" />
<rect x="418.10" y="295.54" width="1.6" height="1.6" fill="#ff0000"/>
<line x1="422.85" y1="293.75" x2="422.85" y2="300.08" stroke="#ff0000" stroke-width="0.9" />
<line x1="421.55" y1="293.75" x2="424.15" y2="293.75" stroke="#ff0000" stroke-width="1.0" />
<line x1="421.55" y1="300.08" x2="424.15" y2="300.08" stroke="#ff0000" stroke-width="1.0" />
<rect x="422.05" y="296.12" width="1.6" height="1.6" fill="#ff0000"/>
<line x1="426.80" y1="294.34" x2="426.80" y2="300.66" stroke="#ff0000" stroke-width="0.9" />
<line x1="425.50" y1="294.34" x2="428.10" y2="294.34" stroke="#ff0000" stroke-width="1.0" />
<line x1="425.50" y1="300.66" x2="428.10" y2="300.66" stroke="#ff0000" stroke-width="1.0" />
<rect x="426.00" y="296.70" width="1.6" height="1.6" fill="#ff0000"/>
<line x1="430.75" y1="294.74" x2="430.75" y2="301.06" stroke="#ff0000" stroke-width="0.9" />
<line x1="429.45" y1="294.74" x2="432.05" y2="294.74" stroke="#ff0000" stroke-width="1.0" />
<line x1="429.45" y1="301.06" x2="432.05" y2="301.06" stroke="#ff0000" stroke-width="1.0" />
<rect x="429.95" y="297.10" width="1.6" height="1.6" fill="#ff0000"/>
<line x1="434.70" y1="295.14" x2="434.70" y2="301.46" stroke="#ff0000" stroke-width="0.9" />
<line x1="433.40" y1="295.14" x2="436.00" y2="295.14" stroke="#ff0000" stroke-width="1.0" />
<line x1="433.40" y1="301.46" x2="436.00" y2="301.46" stroke="#ff0000" stroke-width="1.0" />
<rect x="433.90" y="297.50" width="1.6" height="1.6" fill="#ff0000"/>
<line x1="438.65" y1="295.54" x2="438.65" y2="301.86" stroke="#ff0000" stroke-width="0.9" />
<line x1="437.35" y1="295.54" x2="439.95" y2="295.54" stroke="#ff0000" stroke-width="1.0" />
<line x1="437.35" y1="301.86" x2="439.95" y2="301.86" stroke="#ff0000" stroke-width="1.0" />
<rect x="437.85" y="297.90" width="1.6" height="1.6" fill="#ff0000"/>
<line x1="442.60" y1="295.94" x2="442.60" y2="302.26" stroke="#ff0000" stroke-width="0.9" />
<line x1="441.30" y1="295.94" x2="443.90" y2="295.94" stroke="#ff0000" stroke-width="1.0" />
<line x1="441.30" y1="302.26" x2="443.90" y2="302.26" stroke="#ff0000" stroke-width="1.0" />
<rect x="441.80" y="298.30" width="1.6" height="1.6" fill="#ff0000"/>
<line x1="446.55" y1="296.34" x2="446.55" y2="302.66" stroke="#ff0000" stroke-width="0.9" />
<line x1="445.25" y1="296.34" x2="447.85" y2="296.34" stroke="#ff0000" stroke-width="1.0" />
<line x1="445.25" y1="302.66" x2="447.85" y2="302.66" stroke="#ff0000" stroke-width="1.0" />
<rect x="445.75" y="298.70" width="1.6" height="1.6" fill="#ff0000"/>
<line x1="450.50" y1="296.74" x2="450.50" y2="303.06" stroke="#ff0000" stroke-width="0.9" />
<line x1="449.20" y1="296.74" x2="451.80" y2="296.74" stroke="#ff0000" stroke-width="1.0" />
<line x1="449.20" y1="303.06" x2="451.80" y2="303.06" stroke="#ff0000" stroke-width="1.0" />
<rect x="449.70" y="299.10" width="1.6" height="1.6" fill="#ff0000"/>
<line x1="454.45" y1="297.03" x2="454.45" y2="303.36" stroke="#ff0000" stroke-width="0.9" />
<line x1="453.15" y1="297.03" x2="455.75" y2="297.03" stroke="#ff0000" stroke-width="1.0" />
<line x1="453.15" y1="303.36" x2="455.75" y2="303.36" stroke="#ff0000" stroke-width="1.0" />
<rect x="453.65" y="299.39" width="1.6" height="1.6" fill="#ff0000"/>
<line x1="458.40" y1="297.32" x2="458.40" y2="303.65" stroke="#ff0000" stroke-width="0.9" />
<line x1="457.10" y1="297.32" x2="459.70" y2="297.32" stroke="#ff0000" stroke-width="1.0" />
<line x1="457.10" y1="303.65" x2="459.70" y2="303.65" stroke="#ff0000" stroke-width="1.0" />
<rect x="457.60" y="299.68" width="1.6" height="1.6" fill="#ff0000"/>
<line x1="462.35" y1="297.61" x2="462.35" y2="303.94" stroke="#ff0000" stroke-width="0.9" />
<line x1="461.05" y1="297.61" x2="463.65" y2="297.61" stroke="#ff0000" stroke-width="1.0" />
<line x1="461.05" y1="303.94" x2="463.65" y2="303.94" stroke="#ff0000" stroke-width="1.0" />
<rect x="461.55" y="299.97" width="1.6" height="1.6" fill="#ff0000"/>
<line x1="466.30" y1="297.90" x2="466.30" y2="304.23" stroke="#ff0000" stroke-width="0.9" />
<line x1="465.00" y1="297.90" x2="467.60" y2="297.90" stroke="#ff0000" stroke-width="1.0" />
<line x1="465.00" y1="304.23" x2="467.60" y2="304.23" stroke="#ff0000" stroke-width="1.0" />
<rect x="465.50" y="300.26" width="1.6" height="1.6" fill="#ff0000"/>
<line x1="470.25" y1="298.19" x2="470.25" y2="304.52" stroke="#ff0000" stroke-width="0.9" />
<line x1="468.95" y1="298.19" x2="471.55" y2="298.19" stroke="#ff0000" stroke-width="1.0" />
<line x1="468.95" y1="304.52" x2="471.55" y2="304.52" stroke="#ff0000" stroke-width="1.0" />
<rect x="469.45" y="300.56" width="1.6" height="1.6" fill="#ff0000"/>
<line x1="474.20" y1="298.48" x2="474.20" y2="304.81" stroke="#ff0000" stroke-width="0.9" />
<line x1="472.90" y1="298.48" x2="475.50" y2="298.48" stroke="#ff0000" stroke-width="1.0" />
<line x1="472.90" y1="304.81" x2="475.50" y2="304.81" stroke="#ff0000" stroke-width="1.0" />
<rect x="473.40" y="300.85" width="1.6" height="1.6" fill="#ff0000"/>
<line x1="478.15" y1="298.70" x2="478.15" y2="305.03" stroke="#ff0000" stroke-width="0.9" />
<line x1="476.85" y1="298.70" x2="479.45" y2="298.70" stroke="#ff0000" stroke-width="1.0" />
<line x1="476.85" y1="305.03" x2="479.45" y2="305.03" stroke="#ff0000" stroke-width="1.0" />
<rect x="477.35" y="301.06" width="1.6" height="1.6" fill="#ff0000"/>
<line x1="482.10" y1="298.92" x2="482.10" y2="305.25" stroke="#ff0000" stroke-width="0.9" />
<line x1="480.80" y1="298.92" x2="483.40" y2="298.92" stroke="#ff0000" stroke-width="1.0" />
<line x1="480.80" y1="305.25" x2="483.40" y2="305.25" stroke="#ff0000" stroke-width="1.0" />
<rect x="481.30" y="301.28" width="1.6" height="1.6" fill="#ff0000"/>
<line x1="486.05" y1="299.14" x2="486.05" y2="305.46" stroke="#ff0000" stroke-width="0.9" />
<line x1="484.75" y1="299.14" x2="487.35" y2="299.14" stroke="#ff0000" stroke-width="1.0" />
<line x1="484.75" y1="305.46" x2="487.35" y2="305.46" stroke="#ff0000" stroke-width="1.0" />
<rect x="485.25" y="301.50" width="1.6" height="1.6" fill="#ff0000"/>
<line x1="490.00" y1="299.36" x2="490.00" y2="305.68" stroke="#ff0000" stroke-width="0.9" />
<line x1="488.70" y1="299.36" x2="491.30" y2="299.36" stroke="#ff0000" stroke-width="1.0" />
<line x1="488.70" y1="305.68" x2="491.30" y2="305.68" stroke="#ff0000" stroke-width="1.0" />
<rect x="489.20" y="301.72" width="1.6" height="1.6" fill="#ff0000"/>
<line x1="493.95" y1="299.57" x2="493.95" y2="305.90" stroke="#ff0000" stroke-width="0.9" />
<line x1="492.65" y1="299.57" x2="495.25" y2="299.57" stroke="#ff0000" stroke-width="1.0" />
<line x1="492.65" y1="305.90" x2="495.25" y2="305.90" stroke="#ff0000" stroke-width="1.0" />
<rect x="493.15" y="301.94" width="1.6" height="1.6" fill="#ff0000"/>
<line x1="497.90" y1="299.79" x2="497.90" y2="306.12" stroke="#ff0000" stroke-width="0.9" />
<line x1="496.60" y1="299.79" x2="499.20" y2="299.79" stroke="#ff0000" stroke-width="1.0" />
<line x1="496.60" y1="306.12" x2="499.20" y2="306.12" stroke="#ff0000" stroke-width="1.0" />
<rect x="497.10" y="302.16" width="1.6" height="1.6" fill="#ff0000"/>
<line x1="501.85" y1="300.01" x2="501.85" y2="306.34" stroke="#ff0000" stroke-width="0.9" />
<line x1="500.55" y1="300.01" x2="503.15" y2="300.01" stroke="#ff0000" stroke-width="1.0" />
<line x1="500.55" y1="306.34" x2="503.15" y2="306.34" stroke="#ff0000" stroke-width="1.0" />
<rect x="501.05" y="302.37" width="1.6" height="1.6" fill="#ff0000"/>
<line x1="505.80" y1="300.23" x2="505.80" y2="306.56" stroke="#ff0000" stroke-width="0.9" />
<line x1="504.50" y1="300.23" x2="507.10" y2="300.23" stroke="#ff0000" stroke-width="1.0" />
<line x1="504.50" y1="306.56" x2="507.10" y2="306.56" stroke="#ff0000" stroke-width="1.0" />
<rect x="505.00" y="302.59" width="1.6" height="1.6" fill="#ff0000"/>
<line x1="509.75" y1="300.35" x2="509.75" y2="306.68" stroke="#ff0000" stroke-width="0.9" />
<line x1="508.45" y1="300.35" x2="511.05" y2="300.35" stroke="#ff0000" stroke-width="1.0" />
<line x1="508.45" y1="306.68" x2="511.05" y2="306.68" stroke="#ff0000" stroke-width="1.0" />
<rect x="508.95" y="302.71" width="1.6" height="1.6" fill="#ff0000"/>
<line x1="513.70" y1="300.47" x2="513.70" y2="306.80" stroke="#ff0000" stroke-width="0.9" />
<line x1="512.40" y1="300.47" x2="515.00" y2="300.47" stroke="#ff0000" stroke-width="1.0" />
<line x1="512.40" y1="306.80" x2="515.00" y2="306.80" stroke="#ff0000" stroke-width="1.0" />
<rect x="512.90" y="302.83" width="1.6" height="1.6" fill="#ff0000"/>
<line x1="517.65" y1="300.59" x2="517.65" y2="306.92" stroke="#ff0000" stroke-width="0.9" />
<line x1="516.35" y1="300.59" x2="518.95" y2="300.59" stroke="#ff0000" stroke-width="1.0" />
<line x1="516.35" y1="306.92" x2="518.95" y2="306.92" stroke="#ff0000" stroke-width="1.0" />
<rect x="516.85" y="302.96" width="1.6" height="1.6" fill="#ff0000"/>
<line x1="521.60" y1="300.71" x2="521.60" y2="307.04" stroke="#ff0000" stroke-width="0.9" />
<line x1="520.30" y1="300.71" x2="522.90" y2="300.71" stroke="#ff0000" stroke-width="1.0" />
<line x1="520.30" y1="307.04" x2="522.90" y2="307.04" stroke="#ff0000" stroke-width="1.0" />
<rect x="520.80" y="303.08" width="1.6" height="1.6" fill="#ff0000"/>
<line x1="525.55" y1="300.83" x2="525.55" y2="307.16" stroke="#ff0000" stroke-width="0.9" />
<line x1="524.25" y1="300.83" x2="526.85" y2="300.83" stroke="#ff0000" stroke-width="1.0" />
<line x1="524.25" y1="307.16" x2="526.85" y2="307.16" stroke="#ff0000" stroke-width="1.0" />
<rect x="524.75" y="303.20" width="1.6" height="1.6" fill="#ff0000"/>
<line x1="529.50" y1="300.96" x2="529.50" y2="307.28" stroke="#ff0000" stroke-width="0.9" />
<line x1="528.20" y1="300.96" x2="530.80" y2="300.96" stroke="#ff0000" stroke-width="1.0" />
<line x1="528.20" y1="307.28" x2="530.80" y2="307.28" stroke="#ff0000" stroke-width="1.0" />
<rect x="528.70" y="303.32" width="1.6" height="1.6" fill="#ff0000"/>
<line x1="533.45" y1="301.08" x2="533.45" y2="307.40" stroke="#ff0000" stroke-width="0.9" />
<line x1="532.15" y1="301.08" x2="534.75" y2="301.08" stroke="#ff0000" stroke-width="1.0" />
<line x1="532.15" y1="307.40" x2="534.75" y2="307.40" stroke="#ff0000" stroke-width="1.0" />
<rect x="532.65" y="303.44" width="1.6" height="1.6" fill="#ff0000"/>
<line x1="537.40" y1="301.20" x2="537.40" y2="307.53" stroke="#ff0000" stroke-width="0.9" />
<line x1="536.10" y1="301.20" x2="538.70" y2="301.20" stroke="#ff0000" stroke-width="1.0" />
<line x1="536.10" y1="307.53" x2="538.70" y2="307.53" stroke="#ff0000" stroke-width="1.0" />
<rect x="536.60" y="303.56" width="1.6" height="1.6" fill="#ff0000"/>
<line x1="541.35" y1="301.32" x2="541.35" y2="307.65" stroke="#ff0000" stroke-width="0.9" />
<line x1="540.05" y1="301.32" x2="542.65" y2="301.32" stroke="#ff0000" stroke-width="1.0" />
<line x1="540.05" y1="307.65" x2="542.65" y2="307.65" stroke="#ff0000" stroke-width="1.0" />
<rect x="540.55" y="303.68" width="1.6" height="1.6" fill="#ff0000"/>
<polyline points="347.80,398.31 351.75,398.09 355.70,396.35 359.65,392.64 363.60,389.80 367.55,386.53 371.50,382.60 375.45,376.71 379.40,369.94 383.35,361.21 387.30,349.43 391.25,336.34 395.20,321.72 399.15,309.72 403.10,300.77 407.05,294.01 411.00,294.88 414.95,295.32 418.90,295.90 422.85,296.48 426.80,297.06 430.75,297.46 434.70,297.86 438.65,298.26 442.60,298.66 446.55,299.06 450.50,299.46 454.45,299.72 458.40,299.97 462.35,300.23 466.30,300.48 470.25,300.74 474.20,300.99 478.15,301.21 482.10,301.43 486.05,301.65 490.00,301.86 493.95,302.08 497.90,302.30 501.85,302.52 505.80,302.74 509.75,302.86 513.70,302.98 517.65,303.10 521.60,303.22 525.55,303.34 529.50,303.46 533.45,303.59 537.40,303.71 541.35,303.83" fill="none" stroke="#333" stroke-width="0.9"/>
<line x1="347.80" y1="397.22" x2="347.80" y2="399.40" stroke="#000" stroke-width="0.9" />
<line x1="346.50" y1="397.22" x2="349.10" y2="397.22" stroke="#000" stroke-width="1.0" />
<line x1="346.50" y1="399.40" x2="349.10" y2="399.40" stroke="#000" stroke-width="1.0" />
<rect x="346.80" y="397.31" width="2" height="2" fill="#000"/>
<line x1="351.75" y1="397.00" x2="351.75" y2="399.18" stroke="#000" stroke-width="0.9" />
<line x1="350.45" y1="397.00" x2="353.05" y2="397.00" stroke="#000" stroke-width="1.0" />
<line x1="350.45" y1="399.18" x2="353.05" y2="399.18" stroke="#000" stroke-width="1.0" />
<rect x="350.75" y="397.09" width="2" height="2" fill="#000"/>
<line x1="355.70" y1="395.25" x2="355.70" y2="397.44" stroke="#000" stroke-width="0.9" />
<line x1="354.40" y1="395.25" x2="357.00" y2="395.25" stroke="#000" stroke-width="1.0" />
<line x1="354.40" y1="397.44" x2="357.00" y2="397.44" stroke="#000" stroke-width="1.0" />
<rect x="354.70" y="395.35" width="2" height="2" fill="#000"/>
<line x1="359.65" y1="391.54" x2="359.65" y2="393.73" stroke="#000" stroke-width="0.9" />
<line x1="358.35" y1="391.54" x2="360.95" y2="391.54" stroke="#000" stroke-width="1.0" />
<line x1="358.35" y1="393.73" x2="360.95" y2="393.73" stroke="#000" stroke-width="1.0" />
<rect x="358.65" y="391.64" width="2" height="2" fill="#000"/>
<line x1="363.60" y1="388.71" x2="363.60" y2="390.89" stroke="#000" stroke-width="0.9" />
<line x1="362.30" y1="388.71" x2="364.90" y2="388.71" stroke="#000" stroke-width="1.0" />
<line x1="362.30" y1="390.89" x2="364.90" y2="390.89" stroke="#000" stroke-width="1.0" />
<rect x="362.60" y="388.80" width="2" height="2" fill="#000"/>
<line x1="367.55" y1="385.44" x2="367.55" y2="387.62" stroke="#000" stroke-width="0.9" />
<line x1="366.25" y1="385.44" x2="368.85" y2="385.44" stroke="#000" stroke-width="1.0" />
<line x1="366.25" y1="387.62" x2="368.85" y2="387.62" stroke="#000" stroke-width="1.0" />
<rect x="366.55" y="385.53" width="2" height="2" fill="#000"/>
<line x1="371.50" y1="381.51" x2="371.50" y2="383.69" stroke="#000" stroke-width="0.9" />
<line x1="370.20" y1="381.51" x2="372.80" y2="381.51" stroke="#000" stroke-width="1.0" />
<line x1="370.20" y1="383.69" x2="372.80" y2="383.69" stroke="#000" stroke-width="1.0" />
<rect x="370.50" y="381.60" width="2" height="2" fill="#000"/>
<line x1="375.45" y1="375.62" x2="375.45" y2="377.80" stroke="#000" stroke-width="0.9" />
<line x1="374.15" y1="375.62" x2="376.75" y2="375.62" stroke="#000" stroke-width="1.0" />
<line x1="374.15" y1="377.80" x2="376.75" y2="377.80" stroke="#000" stroke-width="1.0" />
<rect x="374.45" y="375.71" width="2" height="2" fill="#000"/>
<line x1="379.40" y1="368.85" x2="379.40" y2="371.03" stroke="#000" stroke-width="0.9" />
<line x1="378.10" y1="368.85" x2="380.70" y2="368.85" stroke="#000" stroke-width="1.0" />
<line x1="378.10" y1="371.03" x2="380.70" y2="371.03" stroke="#000" stroke-width="1.0" />
<rect x="378.40" y="368.94" width="2" height="2" fill="#000"/>
<line x1="383.35" y1="360.12" x2="383.35" y2="362.31" stroke="#000" stroke-width="0.9" />
<line x1="382.05" y1="360.12" x2="384.65" y2="360.12" stroke="#000" stroke-width="1.0" />
<line x1="382.05" y1="362.31" x2="384.65" y2="362.31" stroke="#000" stroke-width="1.0" />
<rect x="382.35" y="360.21" width="2" height="2" fill="#000"/>
<line x1="387.30" y1="348.34" x2="387.30" y2="350.52" stroke="#000" stroke-width="0.9" />
<line x1="386.00" y1="348.34" x2="388.60" y2="348.34" stroke="#000" stroke-width="1.0" />
<line x1="386.00" y1="350.52" x2="388.60" y2="350.52" stroke="#000" stroke-width="1.0" />
<rect x="386.30" y="348.43" width="2" height="2" fill="#000"/>
<line x1="391.25" y1="335.25" x2="391.25" y2="337.43" stroke="#000" stroke-width="0.9" />
<line x1="389.95" y1="335.25" x2="392.55" y2="335.25" stroke="#000" stroke-width="1.0" />
<line x1="389.95" y1="337.43" x2="392.55" y2="337.43" stroke="#000" stroke-width="1.0" />
<rect x="390.25" y="335.34" width="2" height="2" fill="#000"/>
<line x1="395.20" y1="320.63" x2="395.20" y2="322.81" stroke="#000" stroke-width="0.9" />
<line x1="393.90" y1="320.63" x2="396.50" y2="320.63" stroke="#000" stroke-width="1.0" />
<line x1="393.90" y1="322.81" x2="396.50" y2="322.81" stroke="#000" stroke-width="1.0" />
<rect x="394.20" y="320.72" width="2" height="2" fill="#000"/>
<line x1="399.15" y1="308.63" x2="399.15" y2="310.81" stroke="#000" stroke-width="0.9" />
<line x1="397.85" y1="308.63" x2="400.45" y2="308.63" stroke="#000" stroke-width="1.0" />
<line x1="397.85" y1="310.81" x2="400.45" y2="310.81" stroke="#000" stroke-width="1.0" />
<rect x="398.15" y="308.72" width="2" height="2" fill="#000"/>
<line x1="403.10" y1="299.68" x2="403.10" y2="301.86" stroke="#000" stroke-width="0.9" />
<line x1="401.80" y1="299.68" x2="404.40" y2="299.68" stroke="#000" stroke-width="1.0" />
<line x1="401.80" y1="301.86" x2="404.40" y2="301.86" stroke="#000" stroke-width="1.0" />
<rect x="402.10" y="299.77" width="2" height="2" fill="#000"/>
<line x1="407.05" y1="292.92" x2="407.05" y2="295.10" stroke="#000" stroke-width="0.9" />
<line x1="405.75" y1="292.92" x2="408.35" y2="292.92" stroke="#000" stroke-width="1.0" />
<line x1="405.75" y1="295.10" x2="408.35" y2="295.10" stroke="#000" stroke-width="1.0" />
<rect x="406.05" y="293.01" width="2" height="2" fill="#000"/>
<line x1="411.00" y1="293.79" x2="411.00" y2="295.97" stroke="#000" stroke-width="0.9" />
<line x1="409.70" y1="293.79" x2="412.30" y2="293.79" stroke="#000" stroke-width="1.0" />
<line x1="409.70" y1="295.97" x2="412.30" y2="295.97" stroke="#000" stroke-width="1.0" />
<rect x="410.00" y="293.88" width="2" height="2" fill="#000"/>
<line x1="414.95" y1="294.23" x2="414.95" y2="296.41" stroke="#000" stroke-width="0.9" />
<line x1="413.65" y1="294.23" x2="416.25" y2="294.23" stroke="#000" stroke-width="1.0" />
<line x1="413.65" y1="296.41" x2="416.25" y2="296.41" stroke="#000" stroke-width="1.0" />
<rect x="413.95" y="294.32" width="2" height="2" fill="#000"/>
<line x1="418.90" y1="294.81" x2="418.90" y2="296.99" stroke="#000" stroke-width="0.9" />
<line x1="417.60" y1="294.81" x2="420.20" y2="294.81" stroke="#000" stroke-width="1.0" />
<line x1="417.60" y1="296.99" x2="420.20" y2="296.99" stroke="#000" stroke-width="1.0" />
<rect x="417.90" y="294.90" width="2" height="2" fill="#000"/>
<line x1="422.85" y1="295.39" x2="422.85" y2="297.57" stroke="#000" stroke-width="0.9" />
<line x1="421.55" y1="295.39" x2="424.15" y2="295.39" stroke="#000" stroke-width="1.0" />
<line x1="421.55" y1="297.57" x2="424.15" y2="297.57" stroke="#000" stroke-width="1.0" />
<rect x="421.85" y="295.48" width="2" height="2" fill="#000"/>
<line x1="426.80" y1="295.97" x2="426.80" y2="298.16" stroke="#000" stroke-width="0.9" />
<line x1="425.50" y1="295.97" x2="428.10" y2="295.97" stroke="#000" stroke-width="1.0" />
<line x1="425.50" y1="298.16" x2="428.10" y2="298.16" stroke="#000" stroke-width="1.0" />
<rect x="425.80" y="296.06" width="2" height="2" fill="#000"/>
<line x1="430.75" y1="296.37" x2="430.75" y2="298.56" stroke="#000" stroke-width="0.9" />
<line x1="429.45" y1="296.37" x2="432.05" y2="296.37" stroke="#000" stroke-width="1.0" />
<line x1="429.45" y1="298.56" x2="432.05" y2="298.56" stroke="#000" stroke-width="1.0" />
<rect x="429.75" y="296.46" width="2" height="2" fill="#000"/>
<line x1="434.70" y1="296.77" x2="434.70" y2="298.96" stroke="#000" stroke-width="0.9" />
<line x1="433.40" y1="296.77" x2="436.00" y2="296.77" stroke="#000" stroke-width="1.0" />
<line x1="433.40" y1="298.96" x2="436.00" y2="298.96" stroke="#000" stroke-width="1.0" />
<rect x="433.70" y="296.86" width="2" height="2" fill="#000"/>
<line x1="438.65" y1="297.17" x2="438.65" y2="299.36" stroke="#000" stroke-width="0.9" />
<line x1="437.35" y1="297.17" x2="439.95" y2="297.17" stroke="#000" stroke-width="1.0" />
<line x1="437.35" y1="299.36" x2="439.95" y2="299.36" stroke="#000" stroke-width="1.0" />
<rect x="437.65" y="297.26" width="2" height="2" fill="#000"/>
<line x1="442.60" y1="297.57" x2="442.60" y2="299.76" stroke="#000" stroke-width="0.9" />
<line x1="441.30" y1="297.57" x2="443.90" y2="297.57" stroke="#000" stroke-width="1.0" />
<line x1="441.30" y1="299.76" x2="443.90" y2="299.76" stroke="#000" stroke-width="1.0" />
<rect x="441.60" y="297.66" width="2" height="2" fill="#000"/>
<line x1="446.55" y1="297.97" x2="446.55" y2="300.16" stroke="#000" stroke-width="0.9" />
<line x1="445.25" y1="297.97" x2="447.85" y2="297.97" stroke="#000" stroke-width="1.0" />
<line x1="445.25" y1="300.16" x2="447.85" y2="300.16" stroke="#000" stroke-width="1.0" />
<rect x="445.55" y="298.06" width="2" height="2" fill="#000"/>
<line x1="450.50" y1="298.37" x2="450.50" y2="300.56" stroke="#000" stroke-width="0.9" />
<line x1="449.20" y1="298.37" x2="451.80" y2="298.37" stroke="#000" stroke-width="1.0" />
<line x1="449.20" y1="300.56" x2="451.80" y2="300.56" stroke="#000" stroke-width="1.0" />
<rect x="449.50" y="298.46" width="2" height="2" fill="#000"/>
<line x1="454.45" y1="298.63" x2="454.45" y2="300.81" stroke="#000" stroke-width="0.9" />
<line x1="453.15" y1="298.63" x2="455.75" y2="298.63" stroke="#000" stroke-width="1.0" />
<line x1="453.15" y1="300.81" x2="455.75" y2="300.81" stroke="#000" stroke-width="1.0" />
<rect x="453.45" y="298.72" width="2" height="2" fill="#000"/>
<line x1="458.40" y1="298.88" x2="458.40" y2="301.06" stroke="#000" stroke-width="0.9" />
<line x1="457.10" y1="298.88" x2="459.70" y2="298.88" stroke="#000" stroke-width="1.0" />
<line x1="457.10" y1="301.06" x2="459.70" y2="301.06" stroke="#000" stroke-width="1.0" />
<rect x="457.40" y="298.97" width="2" height="2" fill="#000"/>
<line x1="462.35" y1="299.14" x2="462.35" y2="301.32" stroke="#000" stroke-width="0.9" />
<line x1="461.05" y1="299.14" x2="463.65" y2="299.14" stroke="#000" stroke-width="1.0" />
<line x1="461.05" y1="301.32" x2="463.65" y2="301.32" stroke="#000" stroke-width="1.0" />
<rect x="461.35" y="299.23" width="2" height="2" fill="#000"/>
<line x1="466.30" y1="299.39" x2="466.30" y2="301.57" stroke="#000" stroke-width="0.9" />
<line x1="465.00" y1="299.39" x2="467.60" y2="299.39" stroke="#000" stroke-width="1.0" />
<line x1="465.00" y1="301.57" x2="467.60" y2="301.57" stroke="#000" stroke-width="1.0" />
<rect x="465.30" y="299.48" width="2" height="2" fill="#000"/>
<line x1="470.25" y1="299.65" x2="470.25" y2="301.83" stroke="#000" stroke-width="0.9" />
<line x1="468.95" y1="299.65" x2="471.55" y2="299.65" stroke="#000" stroke-width="1.0" />
<line x1="468.95" y1="301.83" x2="471.55" y2="301.83" stroke="#000" stroke-width="1.0" />
<rect x="469.25" y="299.74" width="2" height="2" fill="#000"/>
<line x1="474.20" y1="299.90" x2="474.20" y2="302.08" stroke="#000" stroke-width="0.9" />
<line x1="472.90" y1="299.90" x2="475.50" y2="299.90" stroke="#000" stroke-width="1.0" />
<line x1="472.90" y1="302.08" x2="475.50" y2="302.08" stroke="#000" stroke-width="1.0" />
<rect x="473.20" y="299.99" width="2" height="2" fill="#000"/>
<line x1="478.15" y1="300.12" x2="478.15" y2="302.30" stroke="#000" stroke-width="0.9" />
<line x1="476.85" y1="300.12" x2="479.45" y2="300.12" stroke="#000" stroke-width="1.0" />
<line x1="476.85" y1="302.30" x2="479.45" y2="302.30" stroke="#000" stroke-width="1.0" />
<rect x="477.15" y="300.21" width="2" height="2" fill="#000"/>
<line x1="482.10" y1="300.34" x2="482.10" y2="302.52" stroke="#000" stroke-width="0.9" />
<line x1="480.80" y1="300.34" x2="483.40" y2="300.34" stroke="#000" stroke-width="1.0" />
<line x1="480.80" y1="302.52" x2="483.40" y2="302.52" stroke="#000" stroke-width="1.0" />
<rect x="481.10" y="300.43" width="2" height="2" fill="#000"/>
<line x1="486.05" y1="300.56" x2="486.05" y2="302.74" stroke="#000" stroke-width="0.9" />
<line x1="484.75" y1="300.56" x2="487.35" y2="300.56" stroke="#000" stroke-width="1.0" />
<line x1="484.75" y1="302.74" x2="487.35" y2="302.74" stroke="#000" stroke-width="1.0" />
<rect x="485.05" y="300.65" width="2" height="2" fill="#000"/>
<line x1="490.00" y1="300.77" x2="490.00" y2="302.96" stroke="#000" stroke-width="0.9" />
<line x1="488.70" y1="300.77" x2="491.30" y2="300.77" stroke="#000" stroke-width="1.0" />
<line x1="488.70" y1="302.96" x2="491.30" y2="302.96" stroke="#000" stroke-width="1.0" />
<rect x="489.00" y="300.86" width="2" height="2" fill="#000"/>
<line x1="493.95" y1="300.99" x2="493.95" y2="303.17" stroke="#000" stroke-width="0.9" />
<line x1="492.65" y1="300.99" x2="495.25" y2="300.99" stroke="#000" stroke-width="1.0" />
<line x1="492.65" y1="303.17" x2="495.25" y2="303.17" stroke="#000" stroke-width="1.0" />
<rect x="492.95" y="301.08" width="2" height="2" fill="#000"/>
<line x1="497.90" y1="301.21" x2="497.90" y2="303.39" stroke="#000" stroke-width="0.9" />
<line x1="496.60" y1="301.21" x2="499.20" y2="301.21" stroke="#000" stroke-width="1.0" />
<line x1="496.60" y1="303.39" x2="499.20" y2="303.39" stroke="#000" stroke-width="1.0" />
<rect x="496.90" y="301.30" width="2" height="2" fill="#000"/>
<line x1="501.85" y1="301.43" x2="501.85" y2="303.61" stroke="#000" stroke-width="0.9" />
<line x1="500.55" y1="301.43" x2="503.15" y2="301.43" stroke="#000" stroke-width="1.0" />
<line x1="500.55" y1="303.61" x2="503.15" y2="303.61" stroke="#000" stroke-width="1.0" />
<rect x="500.85" y="301.52" width="2" height="2" fill="#000"/>
<line x1="505.80" y1="301.65" x2="505.80" y2="303.83" stroke="#000" stroke-width="0.9" />
<line x1="504.50" y1="301.65" x2="507.10" y2="301.65" stroke="#000" stroke-width="1.0" />
<line x1="504.50" y1="303.83" x2="507.10" y2="303.83" stroke="#000" stroke-width="1.0" />
<rect x="504.80" y="301.74" width="2" height="2" fill="#000"/>
<line x1="509.75" y1="301.77" x2="509.75" y2="303.95" stroke="#000" stroke-width="0.9" />
<line x1="508.45" y1="301.77" x2="511.05" y2="301.77" stroke="#000" stroke-width="1.0" />
<line x1="508.45" y1="303.95" x2="511.05" y2="303.95" stroke="#000" stroke-width="1.0" />
<rect x="508.75" y="301.86" width="2" height="2" fill="#000"/>
<line x1="513.70" y1="301.89" x2="513.70" y2="304.07" stroke="#000" stroke-width="0.9" />
<line x1="512.40" y1="301.89" x2="515.00" y2="301.89" stroke="#000" stroke-width="1.0" />
<line x1="512.40" y1="304.07" x2="515.00" y2="304.07" stroke="#000" stroke-width="1.0" />
<rect x="512.70" y="301.98" width="2" height="2" fill="#000"/>
<line x1="517.65" y1="302.01" x2="517.65" y2="304.19" stroke="#000" stroke-width="0.9" />
<line x1="516.35" y1="302.01" x2="518.95" y2="302.01" stroke="#000" stroke-width="1.0" />
<line x1="516.35" y1="304.19" x2="518.95" y2="304.19" stroke="#000" stroke-width="1.0" />
<rect x="516.65" y="302.10" width="2" height="2" fill="#000"/>
<line x1="521.60" y1="302.13" x2="521.60" y2="304.31" stroke="#000" stroke-width="0.9" />
<line x1="520.30" y1="302.13" x2="522.90" y2="302.13" stroke="#000" stroke-width="1.0" />
<line x1="520.30" y1="304.31" x2="522.90" y2="304.31" stroke="#000" stroke-width="1.0" />
<rect x="520.60" y="302.22" width="2" height="2" fill="#000"/>
<line x1="525.55" y1="302.25" x2="525.55" y2="304.43" stroke="#000" stroke-width="0.9" />
<line x1="524.25" y1="302.25" x2="526.85" y2="302.25" stroke="#000" stroke-width="1.0" />
<line x1="524.25" y1="304.43" x2="526.85" y2="304.43" stroke="#000" stroke-width="1.0" />
<rect x="524.55" y="302.34" width="2" height="2" fill="#000"/>
<line x1="529.50" y1="302.37" x2="529.50" y2="304.56" stroke="#000" stroke-width="0.9" />
<line x1="528.20" y1="302.37" x2="530.80" y2="302.37" stroke="#000" stroke-width="1.0" />
<line x1="528.20" y1="304.56" x2="530.80" y2="304.56" stroke="#000" stroke-width="1.0" />
<rect x="528.50" y="302.46" width="2" height="2" fill="#000"/>
<line x1="533.45" y1="302.49" x2="533.45" y2="304.68" stroke="#000" stroke-width="0.9" />
<line x1="532.15" y1="302.49" x2="534.75" y2="302.49" stroke="#000" stroke-width="1.0" />
<line x1="532.15" y1="304.68" x2="534.75" y2="304.68" stroke="#000" stroke-width="1.0" />
<rect x="532.45" y="302.59" width="2" height="2" fill="#000"/>
<line x1="537.40" y1="302.62" x2="537.40" y2="304.80" stroke="#000" stroke-width="0.9" />
<line x1="536.10" y1="302.62" x2="538.70" y2="302.62" stroke="#000" stroke-width="1.0" />
<line x1="536.10" y1="304.80" x2="538.70" y2="304.80" stroke="#000" stroke-width="1.0" />
<rect x="536.40" y="302.71" width="2" height="2" fill="#000"/>
<line x1="541.35" y1="302.74" x2="541.35" y2="304.92" stroke="#000" stroke-width="0.9" />
<line x1="540.05" y1="302.74" x2="542.65" y2="302.74" stroke="#000" stroke-width="1.0" />
<line x1="540.05" y1="304.92" x2="542.65" y2="304.92" stroke="#000" stroke-width="1.0" />
<rect x="540.35" y="302.83" width="2" height="2" fill="#000"/>
<line x1="449.50" y1="341.50" x2="463.70" y2="341.50" stroke="#808080" stroke-width="1" />
<rect x="455.60" y="340.50" width="2" height="2" fill="#000"/>
<text x="471.90" y="345.20" font-size="10.4" font-weight="normal" text-anchor="start" >WT</text>
<line x1="449.50" y1="358.50" x2="463.70" y2="358.50" stroke="#ff5050" stroke-width="1" />
<rect x="455.60" y="357.50" width="2" height="2" fill="#ff0000"/>
<text x="471.90" y="362.20" font-size="10.4" font-weight="normal" text-anchor="start" >Δ<tspan font-style="italic">yhjC</tspan></text>
<line x1="449.50" y1="376.50" x2="463.70" y2="376.50" stroke="#6060ff" stroke-width="1" />
<rect x="455.60" y="375.50" width="2" height="2" fill="#0000ff"/>
<text x="471.90" y="380.20" font-size="10.4" font-weight="normal" text-anchor="start" >C<tspan font-style="italic">yhjC</tspan></text>
</svg>
</body></html>
